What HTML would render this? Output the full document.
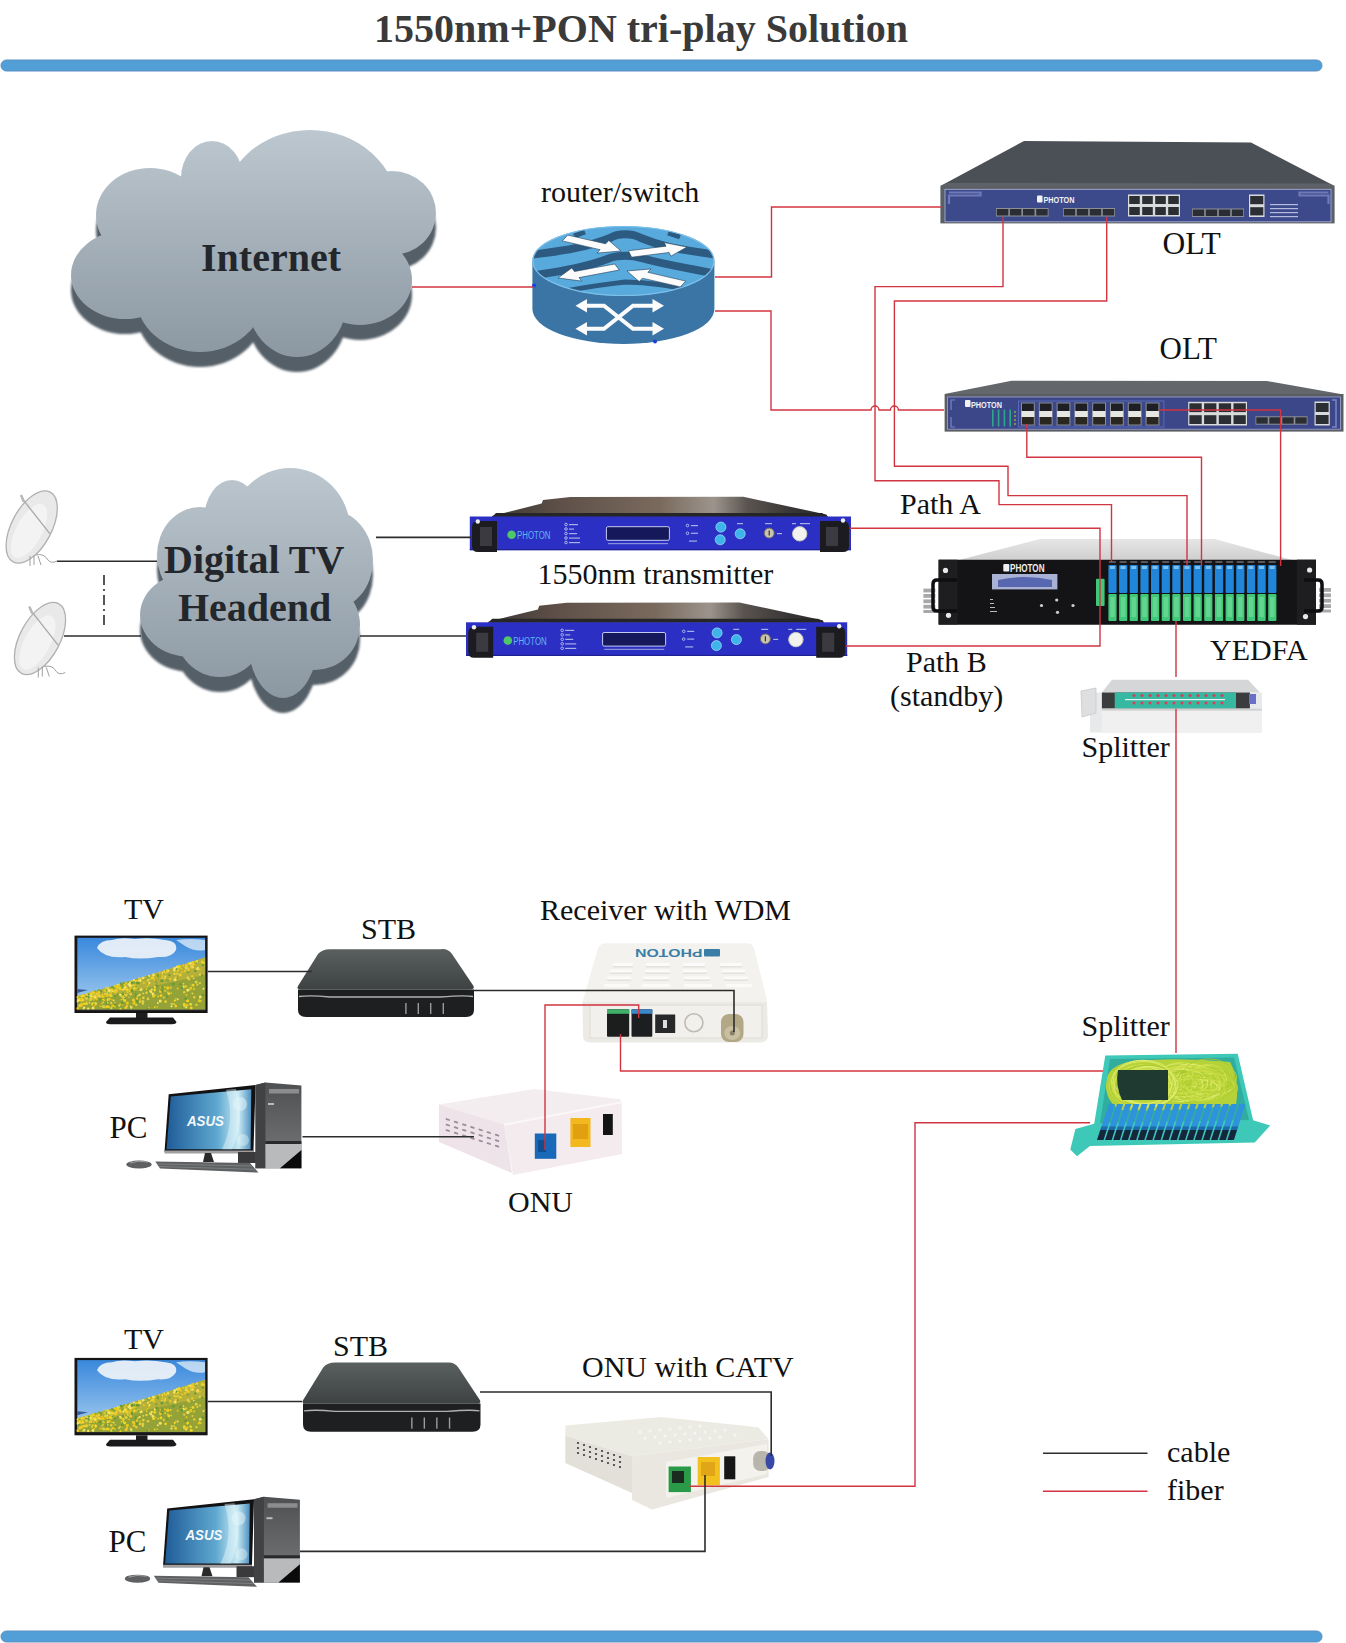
<!DOCTYPE html>
<html><head><meta charset="utf-8">
<style>
html,body{margin:0;padding:0;background:#fff;width:1346px;height:1643px;overflow:hidden}
svg{display:block;position:absolute;left:0;top:0}
text{font-family:"Liberation Serif",serif;fill:#111}
.lb{font-size:30px}
.bd{font-weight:bold;font-size:40px;fill:#23272c}
.r{stroke:#d23440;stroke-width:1.4;fill:none}
.k{stroke:#2c2c2c;stroke-width:1.6;fill:none}
</style></head>
<body>
<svg width="1346" height="1643" viewBox="0 0 1346 1643">
<defs>
<linearGradient id="cg1" gradientUnits="userSpaceOnUse" x1="0" y1="130" x2="0" y2="360"><stop offset="0" stop-color="#bcc7cf"/><stop offset="1" stop-color="#8b97a1"/></linearGradient>
<linearGradient id="cg2" gradientUnits="userSpaceOnUse" x1="0" y1="466" x2="0" y2="700"><stop offset="0" stop-color="#bcc7cf"/><stop offset="1" stop-color="#8b97a1"/></linearGradient>
<filter id="bl1" x="-10%" y="-10%" width="120%" height="120%"><feGaussianBlur stdDeviation="1.2"/></filter>
<g id="cloud1">
<ellipse cx="125" cy="275" rx="54" ry="44"/><ellipse cx="150" cy="215" rx="54" ry="47"/><ellipse cx="212" cy="178" rx="31" ry="37"/>
<ellipse cx="310" cy="210" rx="88" ry="80"/><ellipse cx="392" cy="213" rx="44" ry="42"/><ellipse cx="360" cy="280" rx="52" ry="45"/>
<ellipse cx="297" cy="300" rx="50" ry="57"/><ellipse cx="200" cy="296" rx="64" ry="56"/><rect x="130" y="200" width="250" height="110"/>
</g>
<g id="cloud2">
<ellipse cx="290" cy="530" rx="60" ry="62"/><ellipse cx="232" cy="520" rx="28" ry="40"/><ellipse cx="200" cy="555" rx="43" ry="48"/>
<ellipse cx="190" cy="615" rx="50" ry="42"/><ellipse cx="220" cy="630" rx="45" ry="47"/><ellipse cx="283" cy="640" rx="35" ry="58"/>
<ellipse cx="315" cy="625" rx="45" ry="45"/><ellipse cx="330" cy="560" rx="43" ry="50"/><rect x="180" y="540" width="150" height="100"/>
</g>
</defs>
<g id="clouds">
<use href="#cloud1" transform="translate(0,15)" fill="#545e68" filter="url(#bl1)"/>
<use href="#cloud1" fill="url(#cg1)"/>
<text class="bd" x="201" y="271">Internet</text>
<use href="#cloud2" transform="translate(0,15)" fill="#545e68" filter="url(#bl1)"/>
<use href="#cloud2" fill="url(#cg2)"/>
<text class="bd" x="164" y="573">Digital TV</text>
<text class="bd" x="178" y="620.5">Headend</text>
</g>
<!-- bars -->
<rect x="1" y="60" width="1321" height="11" rx="5.5" fill="#529fd8" stroke="#5a8fbf" stroke-width="1"/>
<rect x="1" y="1631" width="1321" height="11" rx="5.5" fill="#529fd8" stroke="#5a8fbf" stroke-width="1"/>
<text x="374" y="42" style="font-size:40px;font-weight:bold;fill:#3a3a3a">1550nm+PON tri-play Solution</text>

<g id="router">
<clipPath id="rtop"><ellipse cx="623.4" cy="261" rx="91" ry="35"/></clipPath>
<path d="M532.4 261V309A91 35 0 0 0 714.4 309V261Z" fill="#3b75a6"/>
<ellipse cx="623.4" cy="261" rx="91" ry="35" fill="#58aadd"/>
<g clip-path="url(#rtop)" fill="none" stroke="#2c5a80" stroke-linejoin="round">
<path d="M530 255C550 252 580 250 610 238C618 233 632 233 641 238C670 250 690 250 716 255" stroke-width="8"/>
<path d="M530 276C555 272 585 268 610 258C618 255 632 255 641 258C670 266 690 268 716 274" stroke-width="8"/>
<path d="M560 292C590 286 610 284 625 282C650 282 670 286 700 292" stroke-width="5"/>
<path d="M574 236L585 232M668 233L680 237" stroke-width="5"/>
</g>
<ellipse cx="623.4" cy="261" rx="90.5" ry="34.5" fill="none" stroke="#7cc0ea" stroke-width="1.2"/>
<g fill="#fbfbfb" stroke="#1e3c58" stroke-width=".6">
<path d="M562.3 240.9L600.1 249.7L597.0 253.1L621.0 251.0L608.8 240.4L605.6 243.8L567.7 235.1Z"/><path d="M631.6 257.2L669.1 252.5L670.9 256.2L687.0 247.0L664.2 242.6L666.0 246.2L628.4 250.8Z"/><path d="M614.7 264.0L574.5 271.5L571.8 267.9L558.0 278.0L581.6 281.1L579.0 277.6L619.3 270.0Z"/><path d="M685.7 281.1L647.9 272.3L651.0 268.9L627.0 271.0L639.2 281.6L642.4 278.2L680.3 286.9Z"/>
</g>
<g fill="none" stroke="#fbfbfb" stroke-width="4">
<path d="M584 305.7H604L633 328.7H655"/>
<path d="M584 328.7H604L633 305.7H655"/>
</g>
<g fill="#fbfbfb">
<path d="M575.5 305.7L587 299V312.4Z"/><path d="M575.5 328.7L587 322V335.4Z"/>
<path d="M664 305.7L652.5 299V312.4Z"/><path d="M664 328.7L652.5 322V335.4Z"/>
</g>
</g>
<g id="olt1">
<path d="M1024 141L1251 142.5L1334.6 186L940.4 186Z" fill="#4b5056"/>
<path d="M947 183L1329 183.5L1334.6 186L940.4 186Z" fill="#5d6268"/>
<rect x="940.4" y="186" width="394.2" height="37.4" fill="#5c6065"/>
<rect x="945" y="189.3" width="386" height="32.5" fill="#3c4a8c" stroke="#aeb5dc" stroke-width="0.8"/>
<path d="M949 204V195.5H980.5V192.5H949" fill="none" stroke="#6f7bb8" stroke-width="2.2"/>
<path d="M1328.5 204V195.5H1299.5V192.5H1328.5" fill="none" stroke="#6f7bb8" stroke-width="2.2"/>
<rect x="1037" y="195.5" width="5.5" height="7" rx="1" fill="#f2f2f5"/>
<text x="1043.5" y="202.8" style="font-family:'Liberation Sans',sans-serif;font-size:9px;fill:#f2f2f5;font-weight:bold" textLength="31" lengthAdjust="spacingAndGlyphs">PHOTON</text>
<rect x="996" y="208" width="52.5" height="8.5" fill="#8d8f96"/><rect x="996.8" y="209" width="11.5" height="6.5" fill="#2a2d33"/><rect x="1009.9" y="209" width="11.5" height="6.5" fill="#2a2d33"/><rect x="1023.0" y="209" width="11.5" height="6.5" fill="#2a2d33"/><rect x="1036.2" y="209" width="11.5" height="6.5" fill="#2a2d33"/>
<rect x="1063" y="208" width="52" height="8.5" fill="#8d8f96"/><rect x="1063.8" y="209" width="11.4" height="6.5" fill="#2a2d33"/><rect x="1076.8" y="209" width="11.4" height="6.5" fill="#2a2d33"/><rect x="1089.8" y="209" width="11.4" height="6.5" fill="#2a2d33"/><rect x="1102.8" y="209" width="11.4" height="6.5" fill="#2a2d33"/>
<rect x="1128" y="194.5" width="52" height="22" fill="#d9dadc"/><rect x="1129.2" y="196.0" width="10.6" height="8.0" fill="#2b2e33"/><rect x="1142.2" y="196.0" width="10.6" height="8.0" fill="#2b2e33"/><rect x="1155.2" y="196.0" width="10.6" height="8.0" fill="#2b2e33"/><rect x="1168.2" y="196.0" width="10.6" height="8.0" fill="#2b2e33"/><rect x="1129.2" y="207.0" width="10.6" height="8.0" fill="#2b2e33"/><rect x="1142.2" y="207.0" width="10.6" height="8.0" fill="#2b2e33"/><rect x="1155.2" y="207.0" width="10.6" height="8.0" fill="#2b2e33"/><rect x="1168.2" y="207.0" width="10.6" height="8.0" fill="#2b2e33"/>
<rect x="1192" y="208.5" width="52" height="8.5" fill="#8d8f96"/><rect x="1192.8" y="209.5" width="11.4" height="6.5" fill="#2a2d33"/><rect x="1205.8" y="209.5" width="11.4" height="6.5" fill="#2a2d33"/><rect x="1218.8" y="209.5" width="11.4" height="6.5" fill="#2a2d33"/><rect x="1231.8" y="209.5" width="11.4" height="6.5" fill="#2a2d33"/>
<rect x="1249" y="194.5" width="15.5" height="22.5" fill="#d9dadc"/><rect x="1250.2" y="196.0" width="13.1" height="8.2" fill="#2b2e33"/><rect x="1250.2" y="207.2" width="13.1" height="8.2" fill="#2b2e33"/>
<g fill="#b6bbdf"><rect x="1270" y="204" width="28" height="1.2"/><rect x="1270" y="208" width="28" height="1.2"/><rect x="1270" y="212" width="28" height="1.2"/><rect x="1270" y="216" width="28" height="1.2"/></g>
</g>
<g id="olt2">
<path d="M1011.6 380.8L1267 381L1343.5 394.4L944.6 394Z" fill="#63676b"/>
<rect x="944.6" y="394" width="398.9" height="37.6" fill="#5a5e63"/>
<rect x="947.6" y="397" width="392.9" height="32.2" fill="#3b4789" stroke="#9fa6d4" stroke-width="0.8"/>
<rect x="965" y="400" width="5.5" height="7" rx="1" fill="#f2f2f5"/>
<text x="971" y="407.5" style="font-family:'Liberation Sans',sans-serif;font-size:9px;fill:#f2f2f5;font-weight:bold" textLength="31" lengthAdjust="spacingAndGlyphs">PHOTON</text>
<g fill="#2da68e"><rect x="992" y="409.5" width="1.6" height="17"/><rect x="997.8" y="409.5" width="1.6" height="17"/><rect x="1003.6" y="409.5" width="1.6" height="17"/><rect x="1009.4" y="409.5" width="1.6" height="17"/></g>
<g fill="#9aa04a"><circle cx="1015" cy="412" r="1"/><circle cx="1015" cy="416" r="1"/><circle cx="1015" cy="420" r="1"/><circle cx="1015" cy="424" r="1"/></g>
<path d="M951 410V400H955M951 417V427H955" fill="none" stroke="#7c86c0" stroke-width="1.2"/>
<rect x="1018.5" y="401.0" width="145.4" height="26" fill="none" stroke="#5a6ab8" stroke-width="1"/><rect x="1021.0" y="402.5" width="13.8" height="23" fill="#8b8e95"/><rect x="1022.0" y="403.5" width="11.8" height="7.5" fill="#1d1f24"/><rect x="1021.5" y="411.0" width="12.8" height="6" fill="#e6e6e2"/><rect x="1022.0" y="417.0" width="11.8" height="7.5" fill="#2a2620"/><rect x="1038.8" y="402.5" width="13.8" height="23" fill="#8b8e95"/><rect x="1039.8" y="403.5" width="11.8" height="7.5" fill="#1d1f24"/><rect x="1039.3" y="411.0" width="12.8" height="6" fill="#e6e6e2"/><rect x="1039.8" y="417.0" width="11.8" height="7.5" fill="#2a2620"/><rect x="1056.6" y="402.5" width="13.8" height="23" fill="#8b8e95"/><rect x="1057.6" y="403.5" width="11.8" height="7.5" fill="#1d1f24"/><rect x="1057.1" y="411.0" width="12.8" height="6" fill="#e6e6e2"/><rect x="1057.6" y="417.0" width="11.8" height="7.5" fill="#2a2620"/><rect x="1074.4" y="402.5" width="13.8" height="23" fill="#8b8e95"/><rect x="1075.4" y="403.5" width="11.8" height="7.5" fill="#1d1f24"/><rect x="1074.9" y="411.0" width="12.8" height="6" fill="#e6e6e2"/><rect x="1075.4" y="417.0" width="11.8" height="7.5" fill="#2a2620"/><rect x="1092.2" y="402.5" width="13.8" height="23" fill="#8b8e95"/><rect x="1093.2" y="403.5" width="11.8" height="7.5" fill="#1d1f24"/><rect x="1092.7" y="411.0" width="12.8" height="6" fill="#e6e6e2"/><rect x="1093.2" y="417.0" width="11.8" height="7.5" fill="#2a2620"/><rect x="1110.0" y="402.5" width="13.8" height="23" fill="#8b8e95"/><rect x="1111.0" y="403.5" width="11.8" height="7.5" fill="#1d1f24"/><rect x="1110.5" y="411.0" width="12.8" height="6" fill="#e6e6e2"/><rect x="1111.0" y="417.0" width="11.8" height="7.5" fill="#2a2620"/><rect x="1127.8" y="402.5" width="13.8" height="23" fill="#8b8e95"/><rect x="1128.8" y="403.5" width="11.8" height="7.5" fill="#1d1f24"/><rect x="1128.3" y="411.0" width="12.8" height="6" fill="#e6e6e2"/><rect x="1128.8" y="417.0" width="11.8" height="7.5" fill="#2a2620"/><rect x="1145.6" y="402.5" width="13.8" height="23" fill="#8b8e95"/><rect x="1146.6" y="403.5" width="11.8" height="7.5" fill="#1d1f24"/><rect x="1146.1" y="411.0" width="12.8" height="6" fill="#e6e6e2"/><rect x="1146.6" y="417.0" width="11.8" height="7.5" fill="#2a2620"/>
<rect x="1188.2" y="401.8" width="58.8" height="23.7" fill="#d9dadc"/><rect x="1189.4" y="403.3" width="12.3" height="8.8" fill="#2b2e33"/><rect x="1204.1" y="403.3" width="12.3" height="8.8" fill="#2b2e33"/><rect x="1218.8" y="403.3" width="12.3" height="8.8" fill="#2b2e33"/><rect x="1233.5" y="403.3" width="12.3" height="8.8" fill="#2b2e33"/><rect x="1189.4" y="415.2" width="12.3" height="8.8" fill="#2b2e33"/><rect x="1204.1" y="415.2" width="12.3" height="8.8" fill="#2b2e33"/><rect x="1218.8" y="415.2" width="12.3" height="8.8" fill="#2b2e33"/><rect x="1233.5" y="415.2" width="12.3" height="8.8" fill="#2b2e33"/>
<rect x="1255.5" y="416.3" width="52" height="8.4" fill="#8d8f96"/><rect x="1256.3" y="417.3" width="11.4" height="6.4" fill="#2a2d33"/><rect x="1269.3" y="417.3" width="11.4" height="6.4" fill="#2a2d33"/><rect x="1282.3" y="417.3" width="11.4" height="6.4" fill="#2a2d33"/><rect x="1295.3" y="417.3" width="11.4" height="6.4" fill="#2a2d33"/>
<rect x="1314.5" y="401.5" width="15.3" height="24" fill="#d9dadc"/><rect x="1315.7" y="403.0" width="12.9" height="9.0" fill="#2b2e33"/><rect x="1315.7" y="415.0" width="12.9" height="9.0" fill="#2b2e33"/>
<path d="M1332 400H1336V427H1332" fill="none" stroke="#7c86c0" stroke-width="1.5"/>
</g>
<linearGradient id="txtop" x1="0" y1="0" x2="1" y2="0"><stop offset="0" stop-color="#3a3634"/><stop offset=".2" stop-color="#5e5048"/><stop offset=".5" stop-color="#7a6a5e"/><stop offset=".66" stop-color="#9c948c"/><stop offset=".76" stop-color="#5a5450"/><stop offset=".9" stop-color="#363434"/><stop offset="1" stop-color="#2c2c2e"/></linearGradient>
<g id="tx">
<path d="M492 516L541.7 503.6L543 500L570.4 497L743.2 496.7L826.4 514.5L828 517H492Z" fill="url(#txtop)"/>
<path d="M496 513H822L828 517H492Z" fill="#262626"/>
<rect x="469.8" y="516.5" width="381.2" height="33.7" fill="#2b2fc4"/>
<rect x="469.8" y="549" width="381.2" height="1.2" fill="#1e2290"/>
<path d="M474 521H497V552H478Q472 552 472 546V527Q472 521 478 521Z" fill="#1c1c20"/>
<rect x="480" y="527" width="12" height="19" fill="#3a3a40"/>
<path d="M820 521H843Q849 521 849 527V546Q849 552 843 552H820Z" fill="#1c1c20"/>
<rect x="826" y="527" width="12" height="19" fill="#3a3a40"/>
<circle cx="477.8" cy="521.5" r="2.2" fill="#eee"/><circle cx="843" cy="520.5" r="2.2" fill="#eee"/>
<circle cx="511.6" cy="534.7" r="4.3" fill="#4fc868"/>
<text x="517" y="539" style="font-family:'Liberation Sans',sans-serif;font-size:10px;fill:#5fb8f0" textLength="33.5" lengthAdjust="spacingAndGlyphs">PHOTON</text>
<g fill="none" stroke="#c8d0f0" stroke-width=".8"><circle cx="566" cy="524.5" r="1.3"/><circle cx="566" cy="529" r="1.3"/><circle cx="566" cy="533.5" r="1.3"/><circle cx="566" cy="538" r="1.3"/><circle cx="566" cy="542.5" r="1.3"/></g>
<g fill="#a8b0e8"><rect x="569" y="524" width="9" height="1.2"/><rect x="569" y="528.5" width="5" height="1.2"/><rect x="569" y="533" width="8" height="1.2"/><rect x="569" y="537.5" width="11" height="1.2"/><rect x="569" y="542" width="11" height="1.2"/></g>
<rect x="606.4" y="526.7" width="63" height="13.6" rx="1.5" fill="#15185a" stroke="#c4caf2" stroke-width="1"/>
<rect x="608" y="543" width="60" height="1.2" fill="#8890d8"/>
<g fill="none" stroke="#c8d0f0" stroke-width=".8"><circle cx="687.5" cy="525.5" r="1.3"/><circle cx="687.5" cy="533.3" r="1.3"/></g>
<g fill="#a8b0e8"><rect x="691" y="525" width="7" height="1.2"/><rect x="691" y="532.7" width="7" height="1.2"/><rect x="689" y="540.5" width="8" height="1.2"/></g>
<g fill="#3fb4ea" stroke="#9ad8f6" stroke-width=".8"><circle cx="720.9" cy="527.1" r="5"/><circle cx="720.2" cy="539.8" r="5"/><circle cx="740.2" cy="533.8" r="5"/></g>
<rect x="737" y="523" width="6" height="1.2" fill="#a8b0e8"/>
<circle cx="769.2" cy="533.1" r="5" fill="#c8c4b0" stroke="#6a6a60" stroke-width="1"/><rect x="768.6" y="530.5" width="1.2" height="5" fill="#333"/>
<rect x="765" y="523" width="7" height="1.2" fill="#a8b0e8"/><rect x="777" y="533" width="5" height="1.2" fill="#a8b0e8"/>
<circle cx="799.7" cy="533.8" r="7.2" fill="#f2f2ee" stroke="#c8c8c0" stroke-width="1"/>
<rect x="792" y="523" width="4" height="1.2" fill="#a8b0e8"/><rect x="800" y="523" width="10" height="1.2" fill="#a8b0e8"/>
</g>
<use href="#tx" transform="translate(-3.8,105.8)"/>
<linearGradient id="ytop" x1="0" y1="0" x2="0" y2="1"><stop offset="0" stop-color="#e6e6e6"/><stop offset="1" stop-color="#cfcfcf"/></linearGradient>
<g id="yedfa">
<path d="M959 560L1039.9 539L1214.8 539L1291.6 560Z" fill="url(#ytop)"/>
<path d="M938.6 559.7H1316L1316 624.8H938.6Z" fill="#141416"/>
<rect x="938.6" y="559.7" width="19" height="64.7" fill="#1e1e20"/>
<rect x="1297" y="559.7" width="19" height="65" fill="#1e1e20"/>
<circle cx="945.5" cy="570.4" r="2.6" fill="#e8e8e8"/><circle cx="948.5" cy="615.3" r="2.6" fill="#e8e8e8"/>
<circle cx="1309.6" cy="570" r="2.6" fill="#e8e8e8"/><circle cx="1305.5" cy="616.6" r="2.6" fill="#e8e8e8"/>
<g fill="#a8a8aa"><rect x="923.4" y="588.6" width="12" height="3.8"/><rect x="923.4" y="594" width="12" height="3.8"/><rect x="923.4" y="599.4" width="12" height="3.8"/><rect x="923.4" y="604.8" width="12" height="3.8"/><rect x="923.4" y="610" width="12" height="3"/></g>
<path d="M957 580H937Q933 580 933 584V607Q933 611 937 611H957" fill="none" stroke="#0e0e10" stroke-width="3.5"/>
<g fill="#a8a8aa"><rect x="1319" y="588" width="12" height="3.8"/><rect x="1319" y="593.4" width="12" height="3.8"/><rect x="1319" y="598.8" width="12" height="3.8"/><rect x="1319" y="604.2" width="12" height="3.8"/><rect x="1319" y="609.5" width="12" height="3"/></g>
<path d="M1304 580H1318Q1322 580 1322 584V607Q1322 611 1318 611H1304" fill="none" stroke="#0e0e10" stroke-width="3.5"/>
<rect x="992" y="574" width="65.4" height="15.4" fill="#a9b2d4"/>
<path d="M998 580Q1024 574 1052 580V587H998Z" fill="#5868b0"/>
<rect x="1003.3" y="564" width="6" height="7.5" rx="1" fill="#f0f0f0"/>
<text x="1010" y="572" style="font-family:'Liberation Sans',sans-serif;font-size:10px;fill:#f0f0f0;font-weight:bold" textLength="34.5" lengthAdjust="spacingAndGlyphs">PHOTON</text>
<g fill="#bbb"><rect x="990" y="599" width="3" height="1"/><rect x="990" y="603" width="4" height="1"/><rect x="990" y="607" width="5" height="1"/><rect x="990" y="611" width="7" height="1"/></g>
<g fill="#cfcfcf"><circle cx="1041.5" cy="605.5" r="1.6"/><circle cx="1056.7" cy="600" r="1.6"/><circle cx="1057.5" cy="612.3" r="1.6"/><circle cx="1073" cy="605.5" r="1.6"/></g>
<rect x="1096" y="578.7" width="8.6" height="27.3" rx="1" fill="#3fc878"/>
<rect x="1108.4" y="565" width="8.2" height="28" rx="1" fill="#1f86dc"/><rect x="1109.9" y="566" width="5" height="3" fill="#7cc0f0"/><rect x="1108.4" y="594" width="8.2" height="27" rx="1" fill="#3fc878"/><rect x="1110.2" y="597" width="4.6" height="20" fill="#7fe0a0" opacity=".55"/><rect x="1108.9" y="561.5" width="7" height="1" fill="#9a9aa0"/><rect x="1119.1" y="565" width="8.2" height="28" rx="1" fill="#1f86dc"/><rect x="1120.6" y="566" width="5" height="3" fill="#7cc0f0"/><rect x="1119.1" y="594" width="8.2" height="27" rx="1" fill="#3fc878"/><rect x="1120.9" y="597" width="4.6" height="20" fill="#7fe0a0" opacity=".55"/><rect x="1119.6" y="561.5" width="7" height="1" fill="#9a9aa0"/><rect x="1129.7" y="565" width="8.2" height="28" rx="1" fill="#1f86dc"/><rect x="1131.2" y="566" width="5" height="3" fill="#7cc0f0"/><rect x="1129.7" y="594" width="8.2" height="27" rx="1" fill="#3fc878"/><rect x="1131.5" y="597" width="4.6" height="20" fill="#7fe0a0" opacity=".55"/><rect x="1130.2" y="561.5" width="7" height="1" fill="#9a9aa0"/><rect x="1140.4" y="565" width="8.2" height="28" rx="1" fill="#1f86dc"/><rect x="1141.9" y="566" width="5" height="3" fill="#7cc0f0"/><rect x="1140.4" y="594" width="8.2" height="27" rx="1" fill="#3fc878"/><rect x="1142.2" y="597" width="4.6" height="20" fill="#7fe0a0" opacity=".55"/><rect x="1140.9" y="561.5" width="7" height="1" fill="#9a9aa0"/><rect x="1151.0" y="565" width="8.2" height="28" rx="1" fill="#1f86dc"/><rect x="1152.5" y="566" width="5" height="3" fill="#7cc0f0"/><rect x="1151.0" y="594" width="8.2" height="27" rx="1" fill="#3fc878"/><rect x="1152.8" y="597" width="4.6" height="20" fill="#7fe0a0" opacity=".55"/><rect x="1151.5" y="561.5" width="7" height="1" fill="#9a9aa0"/><rect x="1161.7" y="565" width="8.2" height="28" rx="1" fill="#1f86dc"/><rect x="1163.2" y="566" width="5" height="3" fill="#7cc0f0"/><rect x="1161.7" y="594" width="8.2" height="27" rx="1" fill="#3fc878"/><rect x="1163.5" y="597" width="4.6" height="20" fill="#7fe0a0" opacity=".55"/><rect x="1162.2" y="561.5" width="7" height="1" fill="#9a9aa0"/><rect x="1172.3" y="565" width="8.2" height="28" rx="1" fill="#1f86dc"/><rect x="1173.8" y="566" width="5" height="3" fill="#7cc0f0"/><rect x="1172.3" y="594" width="8.2" height="27" rx="1" fill="#3fc878"/><rect x="1174.1" y="597" width="4.6" height="20" fill="#7fe0a0" opacity=".55"/><rect x="1172.8" y="561.5" width="7" height="1" fill="#9a9aa0"/><rect x="1183.0" y="565" width="8.2" height="28" rx="1" fill="#1f86dc"/><rect x="1184.5" y="566" width="5" height="3" fill="#7cc0f0"/><rect x="1183.0" y="594" width="8.2" height="27" rx="1" fill="#3fc878"/><rect x="1184.8" y="597" width="4.6" height="20" fill="#7fe0a0" opacity=".55"/><rect x="1183.5" y="561.5" width="7" height="1" fill="#9a9aa0"/><rect x="1193.6" y="565" width="8.2" height="28" rx="1" fill="#1f86dc"/><rect x="1195.1" y="566" width="5" height="3" fill="#7cc0f0"/><rect x="1193.6" y="594" width="8.2" height="27" rx="1" fill="#3fc878"/><rect x="1195.4" y="597" width="4.6" height="20" fill="#7fe0a0" opacity=".55"/><rect x="1194.1" y="561.5" width="7" height="1" fill="#9a9aa0"/><rect x="1204.2" y="565" width="8.2" height="28" rx="1" fill="#1f86dc"/><rect x="1205.8" y="566" width="5" height="3" fill="#7cc0f0"/><rect x="1204.2" y="594" width="8.2" height="27" rx="1" fill="#3fc878"/><rect x="1206.0" y="597" width="4.6" height="20" fill="#7fe0a0" opacity=".55"/><rect x="1204.8" y="561.5" width="7" height="1" fill="#9a9aa0"/><rect x="1214.9" y="565" width="8.2" height="28" rx="1" fill="#1f86dc"/><rect x="1216.4" y="566" width="5" height="3" fill="#7cc0f0"/><rect x="1214.9" y="594" width="8.2" height="27" rx="1" fill="#3fc878"/><rect x="1216.7" y="597" width="4.6" height="20" fill="#7fe0a0" opacity=".55"/><rect x="1215.4" y="561.5" width="7" height="1" fill="#9a9aa0"/><rect x="1225.6" y="565" width="8.2" height="28" rx="1" fill="#1f86dc"/><rect x="1227.1" y="566" width="5" height="3" fill="#7cc0f0"/><rect x="1225.6" y="594" width="8.2" height="27" rx="1" fill="#3fc878"/><rect x="1227.4" y="597" width="4.6" height="20" fill="#7fe0a0" opacity=".55"/><rect x="1226.1" y="561.5" width="7" height="1" fill="#9a9aa0"/><rect x="1236.2" y="565" width="8.2" height="28" rx="1" fill="#1f86dc"/><rect x="1237.7" y="566" width="5" height="3" fill="#7cc0f0"/><rect x="1236.2" y="594" width="8.2" height="27" rx="1" fill="#3fc878"/><rect x="1238.0" y="597" width="4.6" height="20" fill="#7fe0a0" opacity=".55"/><rect x="1236.7" y="561.5" width="7" height="1" fill="#9a9aa0"/><rect x="1246.9" y="565" width="8.2" height="28" rx="1" fill="#1f86dc"/><rect x="1248.4" y="566" width="5" height="3" fill="#7cc0f0"/><rect x="1246.9" y="594" width="8.2" height="27" rx="1" fill="#3fc878"/><rect x="1248.7" y="597" width="4.6" height="20" fill="#7fe0a0" opacity=".55"/><rect x="1247.4" y="561.5" width="7" height="1" fill="#9a9aa0"/><rect x="1257.5" y="565" width="8.2" height="28" rx="1" fill="#1f86dc"/><rect x="1259.0" y="566" width="5" height="3" fill="#7cc0f0"/><rect x="1257.5" y="594" width="8.2" height="27" rx="1" fill="#3fc878"/><rect x="1259.3" y="597" width="4.6" height="20" fill="#7fe0a0" opacity=".55"/><rect x="1258.0" y="561.5" width="7" height="1" fill="#9a9aa0"/><rect x="1268.2" y="565" width="8.2" height="28" rx="1" fill="#1f86dc"/><rect x="1269.7" y="566" width="5" height="3" fill="#7cc0f0"/><rect x="1268.2" y="594" width="8.2" height="27" rx="1" fill="#3fc878"/><rect x="1270.0" y="597" width="4.6" height="20" fill="#7fe0a0" opacity=".55"/><rect x="1268.7" y="561.5" width="7" height="1" fill="#9a9aa0"/>
</g>
<g id="rack1">
<path d="M1101.9 692.5L1112 679.7H1248L1260 692.5Z" fill="#d4d6d8"/>
<rect x="1090" y="692.5" width="172" height="40" fill="#e8e9ea"/>
<rect x="1101.9" y="692.5" width="148" height="16.2" fill="#3a3c3e"/>
<rect x="1114.7" y="692.5" width="121.3" height="16.2" fill="#37b8a0"/>
<g fill="#d8405a">
<circle cx="1134" cy="695.5" r="1.6"/><circle cx="1142" cy="695.5" r="1.6"/><circle cx="1150" cy="695.5" r="1.6"/><circle cx="1158" cy="695.5" r="1.6"/><circle cx="1166" cy="695.5" r="1.6"/><circle cx="1174" cy="695.5" r="1.6"/><circle cx="1182" cy="695.5" r="1.6"/><circle cx="1190" cy="695.5" r="1.6"/><circle cx="1198" cy="695.5" r="1.6"/><circle cx="1206" cy="695.5" r="1.6"/><circle cx="1214" cy="695.5" r="1.6"/><circle cx="1222" cy="695.5" r="1.6"/>
<circle cx="1134" cy="703" r="1.6"/><circle cx="1142" cy="703" r="1.6"/><circle cx="1150" cy="703" r="1.6"/><circle cx="1158" cy="703" r="1.6"/><circle cx="1166" cy="703" r="1.6"/><circle cx="1174" cy="703" r="1.6"/><circle cx="1182" cy="703" r="1.6"/><circle cx="1190" cy="703" r="1.6"/><circle cx="1198" cy="703" r="1.6"/><circle cx="1206" cy="703" r="1.6"/><circle cx="1214" cy="703" r="1.6"/><circle cx="1222" cy="703" r="1.6"/>
</g>
<rect x="1125" y="699" width="100" height="1.2" fill="#e8f4f0"/>
<rect x="1249" y="694" width="7" height="10" fill="#6a70c8"/>
<path d="M1081 691L1096 688V713L1082 717Z" fill="#dedfe0" stroke="#c8c8c8" stroke-width=".8"/>
<rect x="1102" y="708.7" width="160" height="24" fill="#f0f0f0"/>
<rect x="1102" y="708.7" width="160" height="2" fill="#d0d0d0"/>
</g>
<linearGradient id="sky" x1="0" y1="0" x2="0" y2="1"><stop offset="0" stop-color="#3a88dc"/><stop offset="1" stop-color="#a8d0f0"/></linearGradient>
<linearGradient id="field" x1="0" y1="0" x2="1" y2="1"><stop offset="0" stop-color="#c8c040"/><stop offset=".5" stop-color="#d8c028"/><stop offset="1" stop-color="#7a9a38"/></linearGradient>
<g id="tv">
<rect x="74.5" y="935.6" width="133.1" height="77.4" fill="#151517"/>
<rect x="77.3" y="937.8" width="127.9" height="71.9" fill="url(#sky)"/>
<path d="M97 948Q100 940 112 940Q120 937 135 939Q150 937 165 940Q178 941 176 950Q172 958 158 957Q140 960 125 957Q105 959 97 948Z" fill="#eef3f8" opacity=".92"/>
<path d="M176 940Q190 938 205 940V950Q195 952 185 946Z" fill="#d8e8f6" opacity=".8"/>
<path d="M77.3 996L120 984Q160 972 205.2 957.3V1009.7H77.3Z" fill="#b4b03a"/>
<path d="M77.3 1003L130 992Q170 982 205.2 975V1009.7H77.3Z" fill="#6e9236" opacity=".45"/>
<circle cx="156.9" cy="995.3" r="1.4" fill="#88aa3c"/><circle cx="171.8" cy="1004.1" r="0.7" fill="#f6e468"/><circle cx="176.4" cy="971.5" r="0.7" fill="#e8c818"/><circle cx="91.9" cy="997.5" r="0.9" fill="#f0c830"/><circle cx="90.5" cy="994.7" r="1.4" fill="#f6e468"/><circle cx="113.1" cy="1006.0" r="1.4" fill="#e8c818"/><circle cx="174.6" cy="968.2" r="1.3" fill="#f6e468"/><circle cx="93.7" cy="992.1" r="1.5" fill="#e8c818"/><circle cx="176.1" cy="1006.4" r="0.8" fill="#e8c818"/><circle cx="114.4" cy="1007.6" r="1.2" fill="#6a9a34"/><circle cx="157.3" cy="975.2" r="1.6" fill="#e8c818"/><circle cx="200.7" cy="1000.9" r="1.0" fill="#e0d040"/><circle cx="130.4" cy="1006.2" r="0.9" fill="#e0d040"/><circle cx="115.9" cy="995.9" r="0.7" fill="#6a9a34"/><circle cx="167.7" cy="970.1" r="1.0" fill="#e0d040"/><circle cx="138.8" cy="983.2" r="1.1" fill="#6a9a34"/><circle cx="100.0" cy="992.3" r="1.5" fill="#6a9a34"/><circle cx="123.1" cy="989.2" r="1.2" fill="#f6e468"/><circle cx="124.2" cy="993.7" r="0.7" fill="#f2d420"/><circle cx="167.7" cy="988.1" r="1.6" fill="#f2d420"/><circle cx="173.9" cy="1004.5" r="1.5" fill="#e0d040"/><circle cx="142.8" cy="1003.7" r="0.9" fill="#f6e468"/><circle cx="91.3" cy="1003.0" r="1.4" fill="#88aa3c"/><circle cx="115.2" cy="991.7" r="1.6" fill="#e8c818"/><circle cx="120.9" cy="995.2" r="1.5" fill="#e0d040"/><circle cx="112.6" cy="999.2" r="0.8" fill="#6a9a34"/><circle cx="117.9" cy="986.2" r="0.8" fill="#e8c818"/><circle cx="169.4" cy="975.2" r="1.1" fill="#6a9a34"/><circle cx="83.7" cy="1008.7" r="1.2" fill="#f6e468"/><circle cx="81.6" cy="1003.9" r="1.0" fill="#e0d040"/><circle cx="135.6" cy="986.8" r="0.8" fill="#6a9a34"/><circle cx="81.7" cy="1000.0" r="1.5" fill="#e8c818"/><circle cx="202.6" cy="979.1" r="0.8" fill="#88aa3c"/><circle cx="130.3" cy="982.6" r="1.0" fill="#f2d420"/><circle cx="185.2" cy="970.7" r="1.1" fill="#f0c830"/><circle cx="186.2" cy="1007.3" r="1.1" fill="#f6e468"/><circle cx="165.3" cy="976.5" r="0.9" fill="#f6e468"/><circle cx="129.0" cy="982.6" r="1.0" fill="#f0c830"/><circle cx="199.9" cy="983.2" r="1.1" fill="#e0d040"/><circle cx="100.5" cy="996.1" r="1.2" fill="#f0c830"/><circle cx="188.1" cy="972.4" r="1.4" fill="#88aa3c"/><circle cx="122.9" cy="994.2" r="0.7" fill="#e0d040"/><circle cx="123.8" cy="997.8" r="1.0" fill="#f6e468"/><circle cx="111.3" cy="1008.3" r="1.3" fill="#e0d040"/><circle cx="160.3" cy="987.4" r="0.7" fill="#f0c830"/><circle cx="176.1" cy="974.1" r="0.9" fill="#e0d040"/><circle cx="181.6" cy="987.2" r="1.4" fill="#e0d040"/><circle cx="112.4" cy="990.5" r="1.5" fill="#f6e468"/><circle cx="122.1" cy="1002.9" r="1.5" fill="#6a9a34"/><circle cx="134.8" cy="985.4" r="1.0" fill="#e8c818"/><circle cx="145.0" cy="978.4" r="1.5" fill="#88aa3c"/><circle cx="138.3" cy="995.4" r="1.3" fill="#6a9a34"/><circle cx="130.6" cy="993.9" r="1.5" fill="#f0c830"/><circle cx="162.4" cy="980.7" r="1.3" fill="#88aa3c"/><circle cx="188.1" cy="969.1" r="1.6" fill="#e8c818"/><circle cx="97.9" cy="995.7" r="1.3" fill="#e8c818"/><circle cx="174.3" cy="970.3" r="1.3" fill="#f6e468"/><circle cx="202.4" cy="962.0" r="1.5" fill="#f2d420"/><circle cx="118.0" cy="986.3" r="0.9" fill="#f2d420"/><circle cx="130.5" cy="986.2" r="1.3" fill="#f2d420"/><circle cx="152.7" cy="977.7" r="1.5" fill="#f2d420"/><circle cx="122.2" cy="1007.1" r="1.5" fill="#88aa3c"/><circle cx="92.2" cy="1004.8" r="1.0" fill="#f2d420"/><circle cx="147.6" cy="980.6" r="1.0" fill="#f0c830"/><circle cx="120.8" cy="994.4" r="1.6" fill="#88aa3c"/><circle cx="94.0" cy="996.0" r="1.2" fill="#f0c830"/><circle cx="124.6" cy="983.8" r="1.2" fill="#f0c830"/><circle cx="138.3" cy="980.8" r="0.8" fill="#f2d420"/><circle cx="122.3" cy="1004.8" r="0.7" fill="#f2d420"/><circle cx="119.1" cy="1005.8" r="1.2" fill="#e0d040"/><circle cx="157.8" cy="1002.9" r="1.0" fill="#f6e468"/><circle cx="202.0" cy="975.3" r="1.1" fill="#6a9a34"/><circle cx="125.9" cy="1007.4" r="1.5" fill="#f0c830"/><circle cx="153.2" cy="995.7" r="1.0" fill="#e0d040"/><circle cx="130.5" cy="985.4" r="1.6" fill="#f6e468"/><circle cx="196.0" cy="963.2" r="0.7" fill="#6a9a34"/><circle cx="156.8" cy="982.8" r="1.0" fill="#88aa3c"/><circle cx="94.9" cy="995.6" r="1.1" fill="#f0c830"/><circle cx="112.4" cy="1006.7" r="1.4" fill="#e8c818"/><circle cx="140.0" cy="1001.6" r="1.3" fill="#e0d040"/><circle cx="114.9" cy="996.2" r="1.1" fill="#6a9a34"/><circle cx="187.6" cy="1000.7" r="1.5" fill="#f2d420"/><circle cx="174.5" cy="973.7" r="1.2" fill="#e0d040"/><circle cx="155.7" cy="994.9" r="0.7" fill="#e0d040"/><circle cx="123.5" cy="999.2" r="1.2" fill="#f2d420"/><circle cx="77.9" cy="1001.5" r="1.3" fill="#f2d420"/><circle cx="190.7" cy="980.3" r="0.7" fill="#88aa3c"/><circle cx="180.5" cy="984.6" r="1.3" fill="#6a9a34"/><circle cx="160.2" cy="1001.0" r="1.5" fill="#f6e468"/><circle cx="127.5" cy="1002.9" r="0.9" fill="#e0d040"/><circle cx="136.8" cy="998.3" r="1.0" fill="#f2d420"/><circle cx="166.1" cy="980.3" r="1.0" fill="#88aa3c"/><circle cx="137.7" cy="983.4" r="0.8" fill="#6a9a34"/><circle cx="147.5" cy="986.6" r="1.0" fill="#e8c818"/><circle cx="131.8" cy="991.2" r="0.7" fill="#6a9a34"/><circle cx="106.8" cy="1003.3" r="1.4" fill="#6a9a34"/><circle cx="197.6" cy="968.9" r="1.1" fill="#f2d420"/><circle cx="204.8" cy="987.1" r="0.7" fill="#88aa3c"/><circle cx="93.1" cy="999.9" r="1.4" fill="#f2d420"/><circle cx="168.3" cy="971.1" r="1.0" fill="#f6e468"/><circle cx="96.6" cy="999.3" r="1.1" fill="#e8c818"/><circle cx="86.1" cy="995.6" r="1.2" fill="#6a9a34"/><circle cx="125.8" cy="982.7" r="0.8" fill="#f0c830"/><circle cx="92.6" cy="996.2" r="1.3" fill="#f2d420"/><circle cx="132.5" cy="984.8" r="1.2" fill="#f6e468"/><circle cx="122.6" cy="996.4" r="1.5" fill="#e8c818"/><circle cx="166.4" cy="971.9" r="1.3" fill="#f0c830"/><circle cx="114.5" cy="1006.9" r="1.2" fill="#e8c818"/><circle cx="111.1" cy="995.4" r="0.9" fill="#88aa3c"/><circle cx="113.6" cy="1008.1" r="1.4" fill="#88aa3c"/><circle cx="124.8" cy="998.8" r="0.9" fill="#6a9a34"/><circle cx="79.9" cy="998.5" r="1.2" fill="#f2d420"/><circle cx="89.1" cy="994.0" r="1.2" fill="#e8c818"/><circle cx="127.2" cy="989.8" r="1.6" fill="#f2d420"/><circle cx="179.0" cy="966.4" r="1.4" fill="#f2d420"/><circle cx="185.7" cy="1005.1" r="1.1" fill="#88aa3c"/><circle cx="105.9" cy="989.0" r="1.6" fill="#6a9a34"/><circle cx="140.2" cy="980.6" r="1.3" fill="#f6e468"/><circle cx="122.7" cy="985.8" r="1.0" fill="#f0c830"/><circle cx="167.4" cy="997.0" r="1.0" fill="#6a9a34"/><circle cx="183.5" cy="986.9" r="1.4" fill="#f6e468"/><circle cx="200.1" cy="969.5" r="0.7" fill="#f0c830"/><circle cx="104.9" cy="990.0" r="0.8" fill="#f2d420"/><circle cx="81.7" cy="996.7" r="0.7" fill="#f6e468"/><circle cx="161.8" cy="978.4" r="1.1" fill="#e0d040"/><circle cx="190.9" cy="984.2" r="1.1" fill="#f6e468"/><circle cx="136.4" cy="981.2" r="1.3" fill="#f2d420"/><circle cx="125.3" cy="988.3" r="1.5" fill="#e8c818"/><circle cx="147.9" cy="976.6" r="1.4" fill="#88aa3c"/><circle cx="114.1" cy="988.1" r="1.1" fill="#f2d420"/><circle cx="121.4" cy="999.7" r="1.0" fill="#f2d420"/><circle cx="165.2" cy="990.9" r="1.1" fill="#e8c818"/><circle cx="92.5" cy="1001.1" r="1.0" fill="#6a9a34"/><circle cx="108.1" cy="1008.8" r="0.7" fill="#6a9a34"/><circle cx="80.7" cy="997.2" r="0.8" fill="#f6e468"/><circle cx="193.7" cy="988.9" r="1.3" fill="#e8c818"/><circle cx="137.2" cy="982.9" r="1.4" fill="#6a9a34"/><circle cx="137.2" cy="998.9" r="0.9" fill="#e8c818"/><circle cx="197.4" cy="984.7" r="1.1" fill="#e0d040"/><circle cx="78.3" cy="996.8" r="1.4" fill="#f6e468"/><circle cx="99.1" cy="990.5" r="1.5" fill="#88aa3c"/><circle cx="143.7" cy="982.9" r="0.8" fill="#f2d420"/><circle cx="107.7" cy="1002.7" r="0.8" fill="#f6e468"/><circle cx="84.4" cy="996.3" r="0.7" fill="#f6e468"/><circle cx="177.1" cy="967.1" r="1.5" fill="#f6e468"/><circle cx="116.5" cy="985.3" r="0.7" fill="#e8c818"/><circle cx="100.4" cy="996.5" r="1.1" fill="#f0c830"/><circle cx="107.3" cy="1006.6" r="1.4" fill="#f2d420"/><circle cx="146.6" cy="1004.9" r="1.2" fill="#88aa3c"/><circle cx="170.6" cy="987.7" r="1.1" fill="#e0d040"/><circle cx="139.5" cy="990.8" r="1.0" fill="#6a9a34"/><circle cx="94.4" cy="991.8" r="1.4" fill="#6a9a34"/><circle cx="134.8" cy="1001.3" r="0.9" fill="#f2d420"/><circle cx="95.2" cy="997.0" r="1.4" fill="#e0d040"/><circle cx="182.0" cy="972.1" r="0.8" fill="#f2d420"/><circle cx="137.6" cy="995.7" r="1.4" fill="#f0c830"/><circle cx="162.5" cy="976.0" r="1.1" fill="#e8c818"/><circle cx="83.6" cy="996.1" r="1.0" fill="#e0d040"/><circle cx="190.4" cy="963.5" r="1.4" fill="#f6e468"/><circle cx="173.4" cy="984.0" r="1.5" fill="#6a9a34"/><circle cx="197.4" cy="962.5" r="0.7" fill="#e8c818"/><circle cx="181.6" cy="987.6" r="1.6" fill="#6a9a34"/><circle cx="83.5" cy="998.7" r="0.8" fill="#88aa3c"/><circle cx="126.3" cy="983.2" r="0.8" fill="#e8c818"/><circle cx="95.0" cy="997.3" r="1.0" fill="#f2d420"/><circle cx="85.6" cy="1003.9" r="1.2" fill="#f2d420"/><circle cx="93.0" cy="1008.2" r="1.4" fill="#f6e468"/><circle cx="187.1" cy="1005.4" r="1.3" fill="#e8c818"/><circle cx="144.7" cy="977.8" r="0.9" fill="#e0d040"/><circle cx="79.1" cy="1001.8" r="1.4" fill="#6a9a34"/><circle cx="202.8" cy="965.1" r="1.2" fill="#6a9a34"/><circle cx="168.0" cy="980.4" r="1.5" fill="#88aa3c"/><circle cx="132.3" cy="985.3" r="1.1" fill="#e8c818"/><circle cx="136.3" cy="987.0" r="1.1" fill="#88aa3c"/><circle cx="162.7" cy="973.2" r="1.1" fill="#f6e468"/><circle cx="153.5" cy="974.9" r="1.4" fill="#f6e468"/><circle cx="164.9" cy="973.6" r="0.7" fill="#f0c830"/><circle cx="107.6" cy="999.9" r="1.0" fill="#f6e468"/><circle cx="105.0" cy="991.2" r="0.9" fill="#f0c830"/><circle cx="143.3" cy="997.8" r="1.4" fill="#e0d040"/><circle cx="122.4" cy="986.1" r="1.6" fill="#88aa3c"/><circle cx="193.3" cy="962.4" r="1.1" fill="#e0d040"/><circle cx="95.7" cy="1004.5" r="1.1" fill="#f2d420"/><circle cx="89.5" cy="996.9" r="1.4" fill="#e0d040"/><circle cx="192.3" cy="965.8" r="1.4" fill="#e0d040"/><circle cx="138.3" cy="987.6" r="1.2" fill="#f2d420"/><circle cx="179.5" cy="975.1" r="0.7" fill="#f0c830"/><circle cx="154.7" cy="990.1" r="1.4" fill="#f2d420"/><circle cx="117.9" cy="984.8" r="1.0" fill="#f6e468"/><circle cx="141.4" cy="989.5" r="1.3" fill="#f6e468"/><circle cx="202.8" cy="995.1" r="1.5" fill="#6a9a34"/><circle cx="148.6" cy="975.8" r="0.8" fill="#f6e468"/><circle cx="123.8" cy="994.3" r="1.3" fill="#f0c830"/><circle cx="103.9" cy="991.7" r="0.7" fill="#88aa3c"/><circle cx="122.9" cy="994.0" r="1.4" fill="#6a9a34"/><circle cx="130.2" cy="1007.6" r="0.7" fill="#6a9a34"/><circle cx="107.4" cy="988.0" r="0.8" fill="#e0d040"/><circle cx="191.9" cy="988.0" r="1.5" fill="#6a9a34"/><circle cx="154.7" cy="987.7" r="1.1" fill="#f2d420"/><circle cx="191.8" cy="967.1" r="1.6" fill="#f0c830"/><circle cx="131.5" cy="1007.6" r="1.3" fill="#f6e468"/><circle cx="100.2" cy="999.6" r="1.5" fill="#6a9a34"/><circle cx="155.7" cy="981.1" r="0.8" fill="#6a9a34"/><circle cx="190.9" cy="988.1" r="1.6" fill="#e8c818"/><circle cx="190.6" cy="966.6" r="1.0" fill="#e0d040"/><circle cx="179.1" cy="966.9" r="1.6" fill="#f2d420"/><circle cx="158.2" cy="996.4" r="0.9" fill="#f2d420"/><circle cx="150.2" cy="991.1" r="1.3" fill="#f0c830"/><circle cx="170.3" cy="978.8" r="1.1" fill="#f0c830"/><circle cx="153.5" cy="977.6" r="1.1" fill="#f2d420"/><circle cx="154.7" cy="1007.1" r="0.9" fill="#f2d420"/><circle cx="96.5" cy="993.7" r="1.2" fill="#f0c830"/><circle cx="100.9" cy="991.2" r="1.2" fill="#6a9a34"/><circle cx="177.8" cy="973.8" r="0.8" fill="#f6e468"/><circle cx="95.1" cy="997.7" r="0.8" fill="#e8c818"/><circle cx="185.9" cy="986.4" r="1.5" fill="#e8c818"/><circle cx="191.4" cy="983.9" r="1.4" fill="#88aa3c"/><circle cx="90.4" cy="994.2" r="0.8" fill="#f2d420"/><circle cx="120.3" cy="989.0" r="1.4" fill="#f0c830"/><circle cx="174.2" cy="993.0" r="1.4" fill="#88aa3c"/><circle cx="100.8" cy="1005.9" r="1.2" fill="#f0c830"/><circle cx="157.2" cy="1007.0" r="0.8" fill="#f2d420"/><circle cx="181.3" cy="968.7" r="1.0" fill="#e8c818"/><circle cx="136.0" cy="995.3" r="1.4" fill="#f2d420"/><circle cx="108.8" cy="1007.0" r="1.1" fill="#f2d420"/><circle cx="92.5" cy="999.7" r="1.0" fill="#6a9a34"/><circle cx="77.9" cy="999.4" r="1.0" fill="#6a9a34"/><circle cx="86.7" cy="1003.7" r="1.3" fill="#e0d040"/><circle cx="79.5" cy="1005.4" r="1.6" fill="#88aa3c"/><circle cx="171.5" cy="1003.8" r="1.0" fill="#e0d040"/><circle cx="193.0" cy="985.2" r="1.4" fill="#f2d420"/><circle cx="150.9" cy="979.6" r="1.0" fill="#88aa3c"/><circle cx="85.6" cy="998.3" r="0.9" fill="#e8c818"/><circle cx="112.1" cy="999.8" r="0.8" fill="#f2d420"/><circle cx="148.1" cy="984.3" r="0.9" fill="#88aa3c"/><circle cx="126.8" cy="1006.2" r="0.8" fill="#e0d040"/><circle cx="93.9" cy="992.3" r="1.4" fill="#e8c818"/><circle cx="123.5" cy="983.0" r="0.9" fill="#f6e468"/><circle cx="199.5" cy="999.1" r="0.8" fill="#e8c818"/><circle cx="102.2" cy="1003.2" r="0.7" fill="#f0c830"/><circle cx="88.4" cy="995.6" r="1.6" fill="#6a9a34"/><circle cx="137.5" cy="978.9" r="0.8" fill="#88aa3c"/><circle cx="176.8" cy="978.0" r="1.2" fill="#6a9a34"/><circle cx="159.8" cy="990.0" r="0.7" fill="#f2d420"/><circle cx="131.3" cy="997.5" r="1.4" fill="#88aa3c"/><circle cx="182.8" cy="1003.2" r="1.0" fill="#88aa3c"/><circle cx="173.9" cy="1002.1" r="0.8" fill="#88aa3c"/><circle cx="101.8" cy="1004.1" r="0.8" fill="#e0d040"/><circle cx="105.1" cy="993.7" r="0.9" fill="#f6e468"/><circle cx="123.8" cy="982.9" r="1.3" fill="#88aa3c"/><circle cx="99.1" cy="995.7" r="0.8" fill="#f6e468"/><circle cx="82.1" cy="998.8" r="0.8" fill="#6a9a34"/><circle cx="79.9" cy="1005.7" r="1.6" fill="#f0c830"/><circle cx="135.9" cy="988.1" r="0.8" fill="#e0d040"/><circle cx="197.0" cy="961.0" r="0.9" fill="#f6e468"/><circle cx="88.4" cy="994.2" r="1.3" fill="#e0d040"/><circle cx="176.3" cy="969.1" r="1.2" fill="#6a9a34"/><circle cx="148.6" cy="979.9" r="0.8" fill="#f6e468"/><circle cx="125.3" cy="987.8" r="1.1" fill="#f0c830"/><circle cx="134.0" cy="1003.2" r="1.6" fill="#e8c818"/><circle cx="111.0" cy="995.2" r="1.4" fill="#e8c818"/><circle cx="107.8" cy="998.8" r="0.8" fill="#f2d420"/><circle cx="175.8" cy="977.6" r="1.2" fill="#f0c830"/><circle cx="107.6" cy="991.0" r="1.4" fill="#e8c818"/><circle cx="82.4" cy="998.4" r="1.0" fill="#f2d420"/><circle cx="148.6" cy="984.4" r="0.8" fill="#f2d420"/><circle cx="195.4" cy="971.0" r="1.2" fill="#6a9a34"/><circle cx="151.8" cy="989.5" r="1.1" fill="#f6e468"/><circle cx="116.0" cy="986.6" r="1.5" fill="#f2d420"/><circle cx="159.7" cy="972.4" r="0.9" fill="#f0c830"/><circle cx="127.1" cy="1005.8" r="1.0" fill="#f0c830"/><circle cx="125.1" cy="988.9" r="1.1" fill="#f2d420"/><circle cx="140.5" cy="990.4" r="0.9" fill="#f6e468"/><circle cx="82.9" cy="1003.8" r="0.8" fill="#e8c818"/><circle cx="125.2" cy="987.2" r="1.4" fill="#f6e468"/><circle cx="177.4" cy="992.9" r="0.9" fill="#88aa3c"/><circle cx="80.7" cy="997.4" r="0.8" fill="#88aa3c"/><circle cx="108.8" cy="990.0" r="1.5" fill="#f6e468"/><circle cx="194.2" cy="997.2" r="1.2" fill="#f0c830"/><circle cx="84.1" cy="1003.6" r="1.2" fill="#f2d420"/><circle cx="135.6" cy="995.9" r="1.2" fill="#6a9a34"/><circle cx="188.6" cy="963.6" r="1.2" fill="#f2d420"/><circle cx="130.1" cy="991.2" r="1.1" fill="#f0c830"/><circle cx="105.7" cy="1007.3" r="0.8" fill="#f2d420"/><circle cx="169.2" cy="986.4" r="0.7" fill="#6a9a34"/><circle cx="136.2" cy="994.1" r="1.5" fill="#6a9a34"/><circle cx="184.5" cy="1005.9" r="1.3" fill="#e0d040"/><circle cx="92.9" cy="1002.9" r="0.9" fill="#e0d040"/><circle cx="115.6" cy="1004.6" r="1.0" fill="#6a9a34"/><circle cx="192.5" cy="975.9" r="0.8" fill="#e8c818"/><circle cx="197.8" cy="968.2" r="1.3" fill="#f6e468"/><circle cx="88.7" cy="996.5" r="0.8" fill="#f6e468"/><circle cx="133.3" cy="990.2" r="1.1" fill="#e8c818"/><circle cx="95.2" cy="997.2" r="1.3" fill="#f6e468"/><circle cx="196.8" cy="969.6" r="0.7" fill="#f6e468"/><circle cx="111.6" cy="993.8" r="1.2" fill="#e8c818"/><circle cx="148.3" cy="992.8" r="1.1" fill="#88aa3c"/><circle cx="109.5" cy="990.6" r="1.3" fill="#e8c818"/><circle cx="110.5" cy="991.2" r="1.5" fill="#e0d040"/><circle cx="139.6" cy="996.0" r="0.8" fill="#88aa3c"/><circle cx="92.4" cy="1003.3" r="1.0" fill="#f2d420"/><circle cx="188.5" cy="969.5" r="1.4" fill="#e8c818"/><circle cx="83.9" cy="1008.4" r="1.0" fill="#6a9a34"/><circle cx="120.2" cy="1000.3" r="0.8" fill="#88aa3c"/><circle cx="119.5" cy="984.8" r="0.8" fill="#6a9a34"/><circle cx="120.5" cy="1009.0" r="1.1" fill="#f2d420"/><circle cx="115.9" cy="986.8" r="1.5" fill="#88aa3c"/><circle cx="171.5" cy="1006.3" r="1.1" fill="#f6e468"/><circle cx="130.6" cy="983.5" r="0.7" fill="#f0c830"/><circle cx="146.5" cy="992.7" r="1.3" fill="#e0d040"/><circle cx="196.5" cy="1004.9" r="1.1" fill="#f2d420"/><circle cx="99.2" cy="992.4" r="1.3" fill="#f2d420"/><circle cx="88.2" cy="1008.7" r="1.2" fill="#f6e468"/><circle cx="92.1" cy="995.0" r="1.1" fill="#88aa3c"/><circle cx="132.1" cy="982.8" r="1.2" fill="#e8c818"/><circle cx="126.2" cy="995.1" r="1.5" fill="#e0d040"/><circle cx="189.9" cy="989.7" r="0.8" fill="#e0d040"/><circle cx="84.3" cy="1007.6" r="1.1" fill="#f6e468"/><circle cx="148.0" cy="998.9" r="1.3" fill="#e0d040"/><circle cx="113.7" cy="1000.3" r="0.9" fill="#f6e468"/><circle cx="129.0" cy="997.3" r="0.8" fill="#f0c830"/><circle cx="103.3" cy="1000.2" r="1.4" fill="#f2d420"/><circle cx="134.3" cy="982.6" r="0.9" fill="#6a9a34"/><circle cx="88.9" cy="997.7" r="1.3" fill="#88aa3c"/><circle cx="163.8" cy="997.6" r="1.1" fill="#e0d040"/><circle cx="151.5" cy="978.3" r="1.0" fill="#f2d420"/><circle cx="146.7" cy="988.9" r="0.9" fill="#f2d420"/><circle cx="120.4" cy="994.8" r="1.3" fill="#f6e468"/><circle cx="189.1" cy="979.3" r="1.2" fill="#f0c830"/><circle cx="120.1" cy="1004.3" r="0.8" fill="#f6e468"/><circle cx="115.0" cy="990.4" r="1.4" fill="#e0d040"/><circle cx="161.0" cy="995.6" r="1.4" fill="#f2d420"/><circle cx="139.7" cy="979.8" r="1.6" fill="#f6e468"/><circle cx="161.8" cy="980.8" r="1.5" fill="#6a9a34"/><circle cx="136.3" cy="1005.0" r="1.2" fill="#e0d040"/><circle cx="168.2" cy="987.6" r="1.4" fill="#e8c818"/><circle cx="151.1" cy="992.0" r="1.2" fill="#f6e468"/><circle cx="175.9" cy="998.6" r="0.7" fill="#f0c830"/><circle cx="77.8" cy="1008.4" r="1.4" fill="#e8c818"/><circle cx="201.7" cy="997.8" r="0.9" fill="#88aa3c"/><circle cx="128.4" cy="982.2" r="1.1" fill="#88aa3c"/><circle cx="106.7" cy="990.7" r="0.7" fill="#6a9a34"/><circle cx="107.6" cy="988.1" r="1.5" fill="#e0d040"/><circle cx="132.9" cy="984.5" r="1.4" fill="#e0d040"/><circle cx="148.6" cy="988.4" r="1.4" fill="#88aa3c"/><circle cx="165.0" cy="970.9" r="0.9" fill="#88aa3c"/><circle cx="77.8" cy="999.9" r="1.1" fill="#e8c818"/><circle cx="175.2" cy="968.5" r="1.1" fill="#f6e468"/><circle cx="192.1" cy="976.2" r="1.0" fill="#f2d420"/><circle cx="80.7" cy="1005.0" r="1.4" fill="#f0c830"/><circle cx="136.8" cy="992.9" r="1.2" fill="#88aa3c"/><circle cx="186.1" cy="967.6" r="1.3" fill="#f6e468"/><circle cx="203.7" cy="962.6" r="0.8" fill="#e0d040"/><circle cx="103.1" cy="996.4" r="1.5" fill="#e8c818"/><circle cx="105.6" cy="988.4" r="1.1" fill="#e0d040"/><circle cx="101.4" cy="1005.2" r="1.1" fill="#88aa3c"/><circle cx="199.1" cy="1001.0" r="1.3" fill="#e8c818"/><circle cx="94.3" cy="1006.3" r="0.8" fill="#f2d420"/><circle cx="112.4" cy="994.4" r="0.9" fill="#6a9a34"/><circle cx="187.2" cy="988.3" r="1.4" fill="#88aa3c"/><circle cx="107.2" cy="993.3" r="1.4" fill="#88aa3c"/><circle cx="161.6" cy="990.7" r="1.5" fill="#6a9a34"/><circle cx="171.2" cy="993.2" r="0.9" fill="#f0c830"/><circle cx="109.4" cy="999.1" r="1.4" fill="#e8c818"/><circle cx="182.2" cy="1006.9" r="0.8" fill="#6a9a34"/><circle cx="89.6" cy="1000.3" r="1.0" fill="#e8c818"/><circle cx="157.5" cy="975.1" r="1.2" fill="#6a9a34"/><circle cx="131.7" cy="981.3" r="0.7" fill="#f0c830"/><circle cx="137.0" cy="1001.2" r="1.5" fill="#6a9a34"/><circle cx="195.4" cy="962.1" r="0.8" fill="#f2d420"/><circle cx="203.5" cy="988.7" r="1.0" fill="#f6e468"/><circle cx="111.2" cy="995.8" r="1.5" fill="#e0d040"/><circle cx="155.0" cy="986.6" r="0.9" fill="#f6e468"/><circle cx="148.7" cy="1007.8" r="0.7" fill="#f6e468"/><circle cx="115.1" cy="1002.5" r="0.8" fill="#f0c830"/><circle cx="139.2" cy="978.8" r="1.3" fill="#e0d040"/><circle cx="89.5" cy="1002.8" r="1.1" fill="#e0d040"/><circle cx="122.2" cy="1000.2" r="0.7" fill="#6a9a34"/><circle cx="163.9" cy="972.1" r="1.2" fill="#f2d420"/><circle cx="175.0" cy="1000.8" r="1.3" fill="#f2d420"/><circle cx="82.7" cy="1000.1" r="1.1" fill="#f6e468"/><circle cx="116.2" cy="991.2" r="1.3" fill="#f0c830"/><circle cx="86.6" cy="1002.1" r="0.9" fill="#e0d040"/><circle cx="183.5" cy="983.8" r="0.8" fill="#f6e468"/><circle cx="114.7" cy="986.2" r="1.0" fill="#f6e468"/><circle cx="88.7" cy="996.3" r="0.9" fill="#6a9a34"/><circle cx="90.8" cy="995.6" r="1.4" fill="#f6e468"/><circle cx="119.3" cy="997.8" r="1.1" fill="#88aa3c"/><circle cx="196.2" cy="981.9" r="1.5" fill="#e0d040"/><circle cx="111.2" cy="1003.0" r="1.2" fill="#e0d040"/><circle cx="142.9" cy="977.9" r="1.2" fill="#f6e468"/><circle cx="130.2" cy="983.1" r="1.4" fill="#f6e468"/><circle cx="93.3" cy="992.4" r="1.0" fill="#f2d420"/><circle cx="116.5" cy="989.9" r="1.2" fill="#f0c830"/><circle cx="91.3" cy="992.8" r="0.8" fill="#e0d040"/><circle cx="82.8" cy="995.7" r="1.4" fill="#f2d420"/><circle cx="86.1" cy="994.6" r="1.3" fill="#e0d040"/><circle cx="132.6" cy="983.0" r="1.1" fill="#e0d040"/><circle cx="98.1" cy="993.8" r="1.3" fill="#f0c830"/><circle cx="149.4" cy="982.8" r="1.1" fill="#f6e468"/><circle cx="185.6" cy="967.1" r="1.1" fill="#e0d040"/><circle cx="185.8" cy="965.1" r="1.1" fill="#e0d040"/><circle cx="124.7" cy="1000.5" r="1.5" fill="#f2d420"/><circle cx="127.3" cy="1003.1" r="1.6" fill="#e8c818"/><circle cx="95.9" cy="1003.7" r="1.2" fill="#e0d040"/><circle cx="112.9" cy="987.6" r="1.1" fill="#6a9a34"/><circle cx="128.8" cy="984.5" r="1.3" fill="#f6e468"/><circle cx="193.7" cy="978.2" r="0.8" fill="#f6e468"/><circle cx="82.0" cy="1005.3" r="1.3" fill="#e8c818"/><circle cx="165.6" cy="1001.6" r="1.3" fill="#f2d420"/><circle cx="192.4" cy="993.6" r="1.0" fill="#e0d040"/><circle cx="120.4" cy="988.6" r="1.5" fill="#f2d420"/><circle cx="83.3" cy="999.7" r="0.9" fill="#f0c830"/><circle cx="103.6" cy="1006.5" r="1.6" fill="#e0d040"/><circle cx="178.0" cy="970.3" r="1.1" fill="#f2d420"/><circle cx="166.6" cy="995.1" r="0.8" fill="#6a9a34"/><circle cx="117.3" cy="987.5" r="0.8" fill="#f2d420"/><circle cx="176.0" cy="1002.2" r="1.2" fill="#88aa3c"/><circle cx="122.3" cy="987.9" r="1.1" fill="#88aa3c"/><circle cx="111.9" cy="986.8" r="0.9" fill="#6a9a34"/><circle cx="200.3" cy="996.9" r="1.4" fill="#f6e468"/><circle cx="185.8" cy="998.8" r="1.4" fill="#6a9a34"/><circle cx="173.9" cy="1005.3" r="0.9" fill="#6a9a34"/><circle cx="150.6" cy="979.3" r="0.7" fill="#e0d040"/><circle cx="78.0" cy="997.4" r="1.4" fill="#e8c818"/><circle cx="118.3" cy="987.1" r="1.3" fill="#f2d420"/><circle cx="184.2" cy="992.3" r="1.2" fill="#e0d040"/><circle cx="144.0" cy="982.9" r="0.9" fill="#e8c818"/><circle cx="186.5" cy="994.9" r="1.0" fill="#e8c818"/><circle cx="164.9" cy="987.1" r="0.9" fill="#f2d420"/><circle cx="149.4" cy="975.9" r="0.9" fill="#f6e468"/><circle cx="162.2" cy="987.3" r="1.0" fill="#6a9a34"/><circle cx="95.2" cy="1002.8" r="0.9" fill="#f0c830"/><circle cx="153.0" cy="994.0" r="1.4" fill="#f6e468"/><circle cx="105.8" cy="993.9" r="1.0" fill="#e0d040"/><circle cx="87.6" cy="994.9" r="1.1" fill="#f0c830"/><circle cx="160.4" cy="991.7" r="1.3" fill="#f0c830"/><circle cx="138.1" cy="989.3" r="1.5" fill="#e0d040"/><circle cx="79.3" cy="997.1" r="0.8" fill="#88aa3c"/><circle cx="117.3" cy="988.0" r="1.1" fill="#f0c830"/><circle cx="154.7" cy="979.8" r="0.9" fill="#f0c830"/><circle cx="148.9" cy="977.8" r="0.8" fill="#88aa3c"/><circle cx="80.2" cy="1000.4" r="1.0" fill="#f2d420"/><circle cx="102.8" cy="1000.9" r="0.9" fill="#88aa3c"/><circle cx="193.5" cy="962.7" r="1.0" fill="#6a9a34"/><circle cx="91.9" cy="994.3" r="1.2" fill="#e0d040"/><circle cx="180.3" cy="975.0" r="1.4" fill="#f2d420"/><circle cx="138.7" cy="988.0" r="0.8" fill="#6a9a34"/><circle cx="191.2" cy="1008.0" r="1.5" fill="#f2d420"/><circle cx="175.7" cy="1006.1" r="1.3" fill="#f2d420"/><circle cx="103.2" cy="1002.3" r="0.9" fill="#f0c830"/><circle cx="164.7" cy="978.3" r="1.3" fill="#f0c830"/><circle cx="163.8" cy="972.9" r="1.0" fill="#88aa3c"/><circle cx="167.9" cy="992.1" r="0.9" fill="#f0c830"/><circle cx="177.6" cy="988.4" r="1.0" fill="#e8c818"/><circle cx="130.7" cy="989.5" r="1.5" fill="#e8c818"/><circle cx="175.1" cy="979.8" r="1.5" fill="#f6e468"/><circle cx="158.0" cy="976.3" r="0.9" fill="#6a9a34"/><circle cx="168.5" cy="1006.3" r="0.8" fill="#88aa3c"/><circle cx="134.4" cy="988.4" r="1.3" fill="#f2d420"/><circle cx="187.1" cy="965.9" r="1.1" fill="#f0c830"/><circle cx="164.1" cy="972.4" r="0.8" fill="#f2d420"/><circle cx="183.1" cy="965.5" r="1.1" fill="#e8c818"/><circle cx="198.1" cy="991.5" r="1.0" fill="#88aa3c"/><circle cx="133.1" cy="1008.5" r="1.2" fill="#88aa3c"/><circle cx="187.8" cy="990.1" r="1.6" fill="#f6e468"/><circle cx="142.8" cy="1001.6" r="1.5" fill="#e0d040"/><circle cx="83.8" cy="1008.1" r="1.0" fill="#f6e468"/><circle cx="203.6" cy="962.7" r="1.2" fill="#e0d040"/><circle cx="112.9" cy="989.5" r="1.4" fill="#e8c818"/><circle cx="134.0" cy="980.2" r="1.1" fill="#f6e468"/><circle cx="107.3" cy="993.1" r="0.9" fill="#f6e468"/><circle cx="77.5" cy="997.3" r="0.8" fill="#e0d040"/><circle cx="114.1" cy="988.1" r="1.5" fill="#88aa3c"/><circle cx="109.4" cy="990.4" r="1.3" fill="#f6e468"/><circle cx="109.8" cy="995.1" r="1.3" fill="#f2d420"/><circle cx="95.9" cy="1003.3" r="0.8" fill="#f6e468"/><circle cx="115.8" cy="986.4" r="1.5" fill="#e8c818"/><circle cx="117.9" cy="1006.9" r="0.7" fill="#6a9a34"/><circle cx="131.6" cy="980.6" r="0.9" fill="#f0c830"/><circle cx="168.8" cy="993.7" r="1.4" fill="#f2d420"/><circle cx="117.5" cy="994.4" r="0.8" fill="#6a9a34"/><circle cx="193.3" cy="964.2" r="1.6" fill="#f0c830"/><circle cx="187.9" cy="969.4" r="1.1" fill="#f0c830"/><circle cx="78.4" cy="1000.5" r="1.4" fill="#f6e468"/><circle cx="90.1" cy="998.7" r="0.8" fill="#f6e468"/><circle cx="91.5" cy="999.6" r="1.3" fill="#f0c830"/><circle cx="156.7" cy="985.8" r="1.3" fill="#6a9a34"/><circle cx="137.9" cy="989.4" r="0.9" fill="#6a9a34"/><circle cx="81.3" cy="996.3" r="1.1" fill="#f2d420"/><circle cx="199.9" cy="974.5" r="1.2" fill="#e0d040"/><circle cx="193.0" cy="967.4" r="0.9" fill="#f6e468"/><circle cx="139.1" cy="978.7" r="0.8" fill="#f0c830"/><circle cx="147.4" cy="1008.3" r="1.1" fill="#6a9a34"/><circle cx="190.8" cy="1004.4" r="1.3" fill="#f2d420"/><circle cx="107.2" cy="995.3" r="1.5" fill="#e8c818"/><circle cx="104.1" cy="990.9" r="0.8" fill="#f0c830"/><circle cx="132.2" cy="983.0" r="1.6" fill="#6a9a34"/><circle cx="140.2" cy="999.0" r="0.8" fill="#e8c818"/><circle cx="187.9" cy="977.7" r="1.5" fill="#e0d040"/><circle cx="86.7" cy="998.5" r="1.3" fill="#e0d040"/><circle cx="184.2" cy="1004.4" r="1.4" fill="#f2d420"/><circle cx="143.2" cy="993.4" r="1.0" fill="#e0d040"/><circle cx="164.3" cy="970.9" r="1.0" fill="#e0d040"/><circle cx="177.7" cy="999.3" r="1.0" fill="#f6e468"/><circle cx="125.0" cy="985.8" r="1.1" fill="#e8c818"/><circle cx="153.6" cy="996.1" r="1.5" fill="#f2d420"/><circle cx="121.1" cy="983.9" r="1.4" fill="#6a9a34"/><circle cx="132.0" cy="990.6" r="1.5" fill="#6a9a34"/><circle cx="169.6" cy="979.3" r="0.9" fill="#e8c818"/><circle cx="127.9" cy="992.6" r="1.0" fill="#e0d040"/><circle cx="198.6" cy="969.3" r="1.1" fill="#e0d040"/><circle cx="184.5" cy="971.4" r="1.0" fill="#e8c818"/><circle cx="190.2" cy="1003.8" r="0.7" fill="#f6e468"/><circle cx="119.3" cy="984.8" r="1.1" fill="#e0d040"/><circle cx="88.9" cy="994.2" r="1.0" fill="#6a9a34"/><circle cx="139.7" cy="994.8" r="1.1" fill="#f6e468"/><circle cx="133.4" cy="1000.0" r="1.5" fill="#f0c830"/><circle cx="192.5" cy="962.3" r="1.4" fill="#f0c830"/><circle cx="102.2" cy="994.3" r="0.8" fill="#f2d420"/>
<path d="M77.3 993L88 990L77.3 989Z" fill="#3a5a98"/>
<rect x="77.3" y="1009.7" width="127.9" height="1.2" fill="#2a2a2c"/>
<rect x="136" y="1013" width="11.5" height="5.5" fill="#1e1e20"/>
<path d="M110 1017.5H173L176.5 1022Q176 1024.2 172 1024.2H110Q106 1024.2 106 1022Z" fill="#1a1a1c"/>
</g>
<use href="#tv" transform="translate(0,422.3)"/>
<linearGradient id="stbtop" x1="0" y1="0" x2="0" y2="1"><stop offset="0" stop-color="#5a5f5f"/><stop offset="1" stop-color="#3e4242"/></linearGradient>
<g id="stb">
<path d="M330 949.2H441Q448 948.5 452 954L473.5 986Q475 989.4 470 989.4H301Q296 989.4 298 986L318 954Q322 949.2 330 949.2Z" fill="url(#stbtop)"/>
<path d="M298 989.4H474V1010Q474 1017 466 1017H306Q298 1017 298 1010Z" fill="#1d1f21"/>
<path d="M299 996.5Q310 995 330 997H440Q465 995 473 996.5" stroke="#c9cccc" stroke-width="1.4" fill="none" opacity=".85"/>
<g fill="#9a9c9c"><rect x="405.2" y="1003" width="1.4" height="11"/><rect x="417.6" y="1003" width="1.4" height="11"/><rect x="430" y="1003" width="1.4" height="11"/><rect x="442.6" y="1003" width="1.4" height="11"/></g>
</g>
<use href="#stb" transform="translate(5,414.3) scale(1.0085,1.02) translate(-2.5,-19.5)"/>
<linearGradient id="scr" x1="0" y1="0" x2="1" y2="0"><stop offset="0" stop-color="#1f5c98"/><stop offset=".6" stop-color="#5fa8d0"/><stop offset=".85" stop-color="#c8eaf4"/><stop offset="1" stop-color="#4f90c0"/></linearGradient>
<linearGradient id="twr" x1="0" y1="0" x2="0" y2="1"><stop offset="0" stop-color="#4e5052"/><stop offset=".7" stop-color="#6a6c6e"/><stop offset="1" stop-color="#3a3a3c"/></linearGradient>
<g id="pc">
<path d="M168.7 1094.2L255.5 1085L253.4 1152.8L164.5 1152.1Z" fill="#121214"/>
<path d="M170.8 1096.4L251.3 1089.3L250.6 1149.3L166.6 1149.3Z" fill="url(#scr)"/>
<path d="M226 1089.8Q236 1120 222 1149.3H232Q246 1120 236 1089Z" fill="#e8f8fc" opacity=".45"/>
<circle cx="240" cy="1104" r="7" fill="#e6f6fa" opacity=".5"/><circle cx="243" cy="1140" r="6" fill="#e6f6fa" opacity=".4"/>
<text x="187" y="1126" style="font-family:'Liberation Sans',sans-serif;font-size:14px;font-style:italic;font-weight:bold;fill:#f4f8fb" textLength="37" lengthAdjust="spacingAndGlyphs">ASUS</text>
<path d="M164.5 1150.5H253.4V1153.5H164.5Z" fill="#a0a0a2"/>
<path d="M205 1153H211L214 1162H203Z" fill="#2a2a2c"/>
<path d="M238 1152H258V1163H238Z" fill="#3a3a3c"/>
<path d="M255.5 1085L265.4 1082.5L301.4 1085.5V1168.3H255.5Z" fill="url(#twr)"/>
<path d="M255.5 1085L265.4 1082.5V1168.3H255.5Z" fill="#404244"/>
<rect x="269" y="1089" width="30" height="4.5" fill="#8a8c8e"/><rect x="269" y="1095" width="30" height="2" fill="#555"/>
<rect x="268" y="1103" width="6" height="2" fill="#bbb"/>
<path d="M265.4 1144H301.4V1168.3H265.4Z" fill="#b8babc"/>
<path d="M280 1168.3L301.4 1150V1168.3Z" fill="#0a0a0a"/>
<path d="M265.4 1141H301.4V1144H265.4Z" fill="#2a2a2c"/>
<path d="M155.3 1161.5L250 1163L258.5 1172.6L160 1168.5Z" fill="#5e6062"/>
<path d="M158 1164L252 1166M159 1166.5L255 1169.3" stroke="#8a8c8e" stroke-width=".7"/>
<ellipse cx="139" cy="1164.5" rx="12.7" ry="4" fill="#5e6062"/>
<path d="M130 1163Q138 1160 148 1162" stroke="#b0b0b0" stroke-width=".8" fill="none"/>
</g>
<use href="#pc" transform="translate(-1.5,414.2)"/>
<g id="dish">
<ellipse cx="0" cy="0" rx="20" ry="39.5" fill="#e9e9e9" stroke="#b0b0b0" stroke-width="1.3" transform="translate(31.7,527) rotate(28)"/>
<ellipse cx="0" cy="0" rx="13" ry="30" fill="#f4f4f4" transform="translate(29,531) rotate(28)" opacity=".85"/>
<path d="M21.7 497.9L49.8 533.7" stroke="#a8a8a8" stroke-width="1.3"/>
<path d="M21 495L24 502" stroke="#b8b8b8" stroke-width="2.5"/>
<path d="M30 556V566M34 555V565M38 556L41 565M36 555Q44 553 48 560Q51 564 57 561" stroke="#a0a0a0" stroke-width="1" fill="none"/>
</g>
<use href="#dish" transform="translate(8.3,111.5)"/>
<g id="recv">
<path d="M606.2 943.2H747.4Q752 943.2 754 948L767 1000V1002H582.5L598 948Q600 943.2 606.2 943.2Z" fill="#f3f2ee"/>
<g fill="#fbfbf9">
<rect x="613" y="963" width="20" height="3" rx="1.5"/><rect x="646" y="963" width="24" height="3" rx="1.5"/><rect x="683" y="963" width="22" height="3" rx="1.5"/><rect x="720" y="963" width="22" height="3" rx="1.5"/>
<rect x="610" y="969.5" width="22" height="3" rx="1.5"/><rect x="645" y="969.5" width="25" height="3" rx="1.5"/><rect x="683" y="969.5" width="24" height="3" rx="1.5"/><rect x="722" y="969.5" width="23" height="3" rx="1.5"/>
<rect x="607" y="976.5" width="24" height="3" rx="1.5"/><rect x="643" y="976.5" width="26" height="3" rx="1.5"/><rect x="684" y="976.5" width="26" height="3" rx="1.5"/><rect x="724" y="976.5" width="24" height="3" rx="1.5"/>
<rect x="604" y="984" width="25" height="3" rx="1.5"/><rect x="642" y="984" width="28" height="3" rx="1.5"/><rect x="684" y="984" width="28" height="3" rx="1.5"/><rect x="726" y="984" width="26" height="3" rx="1.5"/>
</g>
<g fill="#e4e2dc">
<rect x="613" y="966" width="20" height="1.5"/><rect x="646" y="966" width="24" height="1.5"/><rect x="683" y="966" width="22" height="1.5"/><rect x="720" y="966" width="22" height="1.5"/>
<rect x="610" y="972.5" width="22" height="1.5"/><rect x="645" y="972.5" width="25" height="1.5"/><rect x="683" y="972.5" width="24" height="1.5"/><rect x="722" y="972.5" width="23" height="1.5"/>
<rect x="607" y="979.5" width="24" height="1.5"/><rect x="643" y="979.5" width="26" height="1.5"/><rect x="684" y="979.5" width="26" height="1.5"/><rect x="724" y="979.5" width="24" height="1.5"/>
</g>
<text x="0" y="0" transform="translate(702.5,948.8) rotate(180)" style="font-family:'Liberation Sans',sans-serif;font-size:10.5px;font-weight:bold;fill:#3a7ea8" textLength="67.5" lengthAdjust="spacingAndGlyphs">PHOTON</text>
<rect x="704" y="949" width="16" height="7.5" rx="1" fill="#3a7ea8"/>
<path d="M582.5 1002H767L768 1036Q768 1042 760 1042.5H590Q583 1042 583 1036Z" fill="#eceae5"/>
<rect x="590" y="1005" width="172" height="33" fill="#f1f0ec" stroke="#dedcd6" stroke-width="1"/>
<rect x="607" y="1009.3" width="22.2" height="27.5" rx="1" fill="#1c1e1e"/><rect x="607" y="1009.3" width="22.2" height="4.5" fill="#3fb068"/>
<rect x="631.5" y="1009.3" width="20.8" height="27.5" rx="1" fill="#1c1e22"/><rect x="631.5" y="1009.3" width="20.8" height="4.5" fill="#3a88c8"/>
<rect x="655.2" y="1014.5" width="20" height="18.5" fill="#26282a"/><rect x="663" y="1020" width="4" height="8" fill="#ddd"/>
<circle cx="693.9" cy="1022.7" r="9" fill="none" stroke="#bdbbb5" stroke-width="1.6"/>
<rect x="721" y="1014" width="22.5" height="28" rx="8" fill="#b2a886"/>
<ellipse cx="732.3" cy="1033" rx="8" ry="7" fill="#c9c0a2"/><circle cx="732.3" cy="1033" r="2.5" fill="#8a8068"/>
</g>
<g id="onu">
<path d="M438.9 1104.5L534 1089L620.2 1099.3L621.7 1102.3L504.3 1124.6Z" fill="#f4edf0"/>
<path d="M438.9 1104.5L504.3 1124.6L512 1173L439 1142Z" fill="#ede3e8"/>
<path d="M504.3 1124.6L621.7 1102.3L622 1154L513 1175Z" fill="#f4ebef"/>
<path d="M504.3 1124.6L621.7 1102.3" stroke="#fbf7f9" stroke-width="2"/>
<g fill="#9c8c98"><rect x="446.0" y="1118.0" width="4.5" height="1.8" rx=".8" transform="rotate(18 446.0 1118.0)"/><rect x="454.2" y="1120.6" width="4.5" height="1.8" rx=".8" transform="rotate(18 454.2 1120.6)"/><rect x="462.4" y="1123.2" width="4.5" height="1.8" rx=".8" transform="rotate(18 462.4 1123.2)"/><rect x="470.6" y="1125.8" width="4.5" height="1.8" rx=".8" transform="rotate(18 470.6 1125.8)"/><rect x="478.8" y="1128.4" width="4.5" height="1.8" rx=".8" transform="rotate(18 478.8 1128.4)"/><rect x="487.0" y="1131.0" width="4.5" height="1.8" rx=".8" transform="rotate(18 487.0 1131.0)"/><rect x="495.2" y="1133.6" width="4.5" height="1.8" rx=".8" transform="rotate(18 495.2 1133.6)"/><rect x="446.0" y="1123.5" width="4.5" height="1.8" rx=".8" transform="rotate(18 446.0 1123.5)"/><rect x="454.2" y="1126.1" width="4.5" height="1.8" rx=".8" transform="rotate(18 454.2 1126.1)"/><rect x="462.4" y="1128.7" width="4.5" height="1.8" rx=".8" transform="rotate(18 462.4 1128.7)"/><rect x="470.6" y="1131.3" width="4.5" height="1.8" rx=".8" transform="rotate(18 470.6 1131.3)"/><rect x="478.8" y="1133.9" width="4.5" height="1.8" rx=".8" transform="rotate(18 478.8 1133.9)"/><rect x="487.0" y="1136.5" width="4.5" height="1.8" rx=".8" transform="rotate(18 487.0 1136.5)"/><rect x="495.2" y="1139.1" width="4.5" height="1.8" rx=".8" transform="rotate(18 495.2 1139.1)"/><rect x="446.0" y="1129.0" width="4.5" height="1.8" rx=".8" transform="rotate(18 446.0 1129.0)"/><rect x="454.2" y="1131.6" width="4.5" height="1.8" rx=".8" transform="rotate(18 454.2 1131.6)"/><rect x="462.4" y="1134.2" width="4.5" height="1.8" rx=".8" transform="rotate(18 462.4 1134.2)"/><rect x="470.6" y="1136.8" width="4.5" height="1.8" rx=".8" transform="rotate(18 470.6 1136.8)"/><rect x="478.8" y="1139.4" width="4.5" height="1.8" rx=".8" transform="rotate(18 478.8 1139.4)"/><rect x="487.0" y="1142.0" width="4.5" height="1.8" rx=".8" transform="rotate(18 487.0 1142.0)"/><rect x="495.2" y="1144.6" width="4.5" height="1.8" rx=".8" transform="rotate(18 495.2 1144.6)"/></g>
<rect x="534.8" y="1133.5" width="21.5" height="25.3" fill="#1a68b8"/><rect x="538" y="1140" width="8" height="12" fill="#0f4e90"/>
<rect x="570.4" y="1118" width="20.1" height="29" fill="#f2b81e"/><rect x="573" y="1124" width="15" height="15" fill="#e0a010"/>
<rect x="603" y="1114" width="9.8" height="21" fill="#141414"/>
</g>
<g id="catv">
<path d="M565.3 1425.5L661 1417L758.4 1427.2L768.6 1439.2L632 1456.3L565.3 1435.8Z" fill="#ecebe3"/>
<path d="M565.3 1435.8L632 1456.3L632 1493L565.3 1463Z" fill="#e2e0d8"/>
<path d="M632 1456.3L768.6 1439.2L768.6 1477L652 1509.4L632 1500Z" fill="#e9e7df"/>
<path d="M666 1462L767 1444V1474L666 1498Z" fill="#f3f2ec"/>
<g fill="#f6f5f0"><circle cx="640" cy="1432" r="1.6"/><circle cx="650" cy="1431" r="1.6"/><circle cx="660" cy="1430" r="1.6"/><circle cx="670" cy="1429" r="1.6"/><circle cx="680" cy="1428" r="1.6"/><circle cx="645" cy="1438" r="1.6"/><circle cx="655" cy="1437" r="1.6"/><circle cx="665" cy="1436" r="1.6"/><circle cx="675" cy="1435" r="1.6"/><circle cx="685" cy="1434" r="1.6"/><circle cx="695" cy="1433" r="1.6"/><circle cx="705" cy="1432" r="1.6"/><circle cx="690" cy="1427" r="1.6"/><circle cx="700" cy="1426" r="1.6"/><circle cx="715" cy="1431" r="1.6"/><circle cx="725" cy="1430" r="1.6"/><circle cx="660" cy="1443" r="1.6"/><circle cx="670" cy="1442" r="1.6"/><circle cx="680" cy="1441" r="1.6"/><circle cx="690" cy="1440" r="1.6"/><circle cx="700" cy="1439" r="1.6"/><circle cx="710" cy="1438" r="1.6"/><circle cx="735" cy="1435" r="1.6"/><circle cx="720" cy="1437" r="1.6"/></g>
<g fill="#3a3a38">
<circle cx="578" cy="1443" r="1.1"/><circle cx="584" cy="1445" r="1.1"/><circle cx="590" cy="1447" r="1.1"/><circle cx="596" cy="1449" r="1.1"/><circle cx="602" cy="1451" r="1.1"/><circle cx="608" cy="1453" r="1.1"/><circle cx="614" cy="1455" r="1.1"/><circle cx="620" cy="1457" r="1.1"/>
<circle cx="578" cy="1448" r="1.1"/><circle cx="584" cy="1450" r="1.1"/><circle cx="590" cy="1452" r="1.1"/><circle cx="596" cy="1454" r="1.1"/><circle cx="602" cy="1456" r="1.1"/><circle cx="608" cy="1458" r="1.1"/><circle cx="614" cy="1460" r="1.1"/><circle cx="620" cy="1462" r="1.1"/>
<circle cx="578" cy="1453" r="1.1"/><circle cx="584" cy="1455" r="1.1"/><circle cx="590" cy="1457" r="1.1"/><circle cx="596" cy="1459" r="1.1"/><circle cx="602" cy="1461" r="1.1"/><circle cx="608" cy="1463" r="1.1"/><circle cx="614" cy="1465" r="1.1"/><circle cx="620" cy="1467" r="1.1"/>
</g>
<rect x="668.6" y="1466.5" width="22.3" height="25.6" fill="#2a9a48"/><rect x="672" y="1471" width="12" height="12" fill="#1a2a1e"/>
<rect x="697.7" y="1457" width="22.2" height="28.3" fill="#f2c11e"/><rect x="701" y="1462" width="14" height="14" fill="#e0a618"/>
<rect x="724.2" y="1456.3" width="11.1" height="23" fill="#161616"/>
<rect x="753.2" y="1451" width="17" height="20" rx="7" fill="#b8b6ac"/><ellipse cx="770" cy="1461" rx="4.5" ry="8.5" fill="#3848a8"/>
</g>
<g id="split2">
<path d="M1105.3 1055.4L1237.7 1053.7L1253.1 1120.3L1270.2 1125.4L1254.8 1142.5L1090 1146L1077 1156.2L1070.3 1149.4L1075.4 1128.9L1094.2 1123.7Z" fill="#3ec8b8"/>
<path d="M1110 1059L1234 1057.5L1249 1120L1100 1123Z" fill="#30ad9e"/>
<clipPath id="spclip"><path d="M1110 1059L1234 1057.5L1249 1120L1100 1123Z"/></clipPath>
<g clip-path="url(#spclip)">
<path d="M1106 1080Q1110 1060 1150 1060Q1190 1058 1230 1062Q1240 1080 1236 1105Q1180 1112 1120 1110Q1104 1100 1106 1080Z" fill="#b6d23a"/>
<ellipse cx="1188.0" cy="1077.6" rx="24.8" ry="9.7" fill="none" stroke="#cfe048" stroke-width=".9"/><ellipse cx="1189.6" cy="1076.0" rx="22.6" ry="9.3" fill="none" stroke="#a8c830" stroke-width=".9"/><ellipse cx="1191.7" cy="1079.1" rx="23.3" ry="9.5" fill="none" stroke="#cfe048" stroke-width=".9"/><ellipse cx="1212.9" cy="1085.7" rx="23.7" ry="9.6" fill="none" stroke="#a8c830" stroke-width=".9"/><ellipse cx="1177.0" cy="1078.8" rx="23.3" ry="10.2" fill="none" stroke="#a8c830" stroke-width=".9"/><ellipse cx="1180.8" cy="1077.0" rx="19.6" ry="16.3" fill="none" stroke="#b8d438" stroke-width=".9"/><ellipse cx="1179.1" cy="1084.7" rx="17.8" ry="9.9" fill="none" stroke="#cfe048" stroke-width=".9"/><ellipse cx="1197.6" cy="1085.5" rx="22.4" ry="13.8" fill="none" stroke="#e0ec70" stroke-width=".9"/><ellipse cx="1193.6" cy="1090.7" rx="20.4" ry="11.2" fill="none" stroke="#b8d438" stroke-width=".9"/><ellipse cx="1203.0" cy="1079.1" rx="23.6" ry="13.7" fill="none" stroke="#e0ec70" stroke-width=".9"/><ellipse cx="1204.2" cy="1079.9" rx="29.7" ry="10.1" fill="none" stroke="#a8c830" stroke-width=".9"/><ellipse cx="1181.6" cy="1080.8" rx="29.0" ry="12.8" fill="none" stroke="#cfe048" stroke-width=".9"/><ellipse cx="1205.6" cy="1084.7" rx="28.1" ry="11.8" fill="none" stroke="#e0ec70" stroke-width=".9"/><ellipse cx="1198.8" cy="1084.9" rx="21.8" ry="16.6" fill="none" stroke="#e0ec70" stroke-width=".9"/><ellipse cx="1194.0" cy="1086.3" rx="15.9" ry="15.3" fill="none" stroke="#a8c830" stroke-width=".9"/><ellipse cx="1186.4" cy="1081.6" rx="25.0" ry="9.2" fill="none" stroke="#a8c830" stroke-width=".9"/><ellipse cx="1189.2" cy="1085.4" rx="22.4" ry="11.0" fill="none" stroke="#e0ec70" stroke-width=".9"/><ellipse cx="1180.2" cy="1079.2" rx="20.9" ry="16.8" fill="none" stroke="#cfe048" stroke-width=".9"/><ellipse cx="1181.7" cy="1081.8" rx="19.2" ry="10.2" fill="none" stroke="#a8c830" stroke-width=".9"/><ellipse cx="1209.6" cy="1079.7" rx="21.2" ry="12.2" fill="none" stroke="#a8c830" stroke-width=".9"/><ellipse cx="1213.3" cy="1077.6" rx="17.6" ry="11.1" fill="none" stroke="#b8d438" stroke-width=".9"/><ellipse cx="1175.5" cy="1089.1" rx="17.7" ry="11.5" fill="none" stroke="#b8d438" stroke-width=".9"/><ellipse cx="1191.8" cy="1081.3" rx="23.5" ry="17.6" fill="none" stroke="#cfe048" stroke-width=".9"/><ellipse cx="1193.3" cy="1089.8" rx="29.3" ry="15.1" fill="none" stroke="#a8c830" stroke-width=".9"/><ellipse cx="1190.9" cy="1081.7" rx="22.2" ry="12.6" fill="none" stroke="#b8d438" stroke-width=".9"/><ellipse cx="1177.7" cy="1078.5" rx="17.4" ry="12.1" fill="none" stroke="#cfe048" stroke-width=".9"/><ellipse cx="1179.1" cy="1084.6" rx="23.0" ry="17.5" fill="none" stroke="#cfe048" stroke-width=".9"/><ellipse cx="1177.8" cy="1078.5" rx="20.6" ry="14.7" fill="none" stroke="#e0ec70" stroke-width=".9"/><ellipse cx="1199.1" cy="1083.1" rx="16.7" ry="13.4" fill="none" stroke="#a8c830" stroke-width=".9"/><ellipse cx="1194.2" cy="1080.3" rx="17.2" ry="15.7" fill="none" stroke="#e0ec70" stroke-width=".9"/><ellipse cx="1194.1" cy="1086.8" rx="22.7" ry="10.8" fill="none" stroke="#e0ec70" stroke-width=".9"/><ellipse cx="1180.9" cy="1084.2" rx="15.4" ry="13.8" fill="none" stroke="#cfe048" stroke-width=".9"/><ellipse cx="1202.8" cy="1079.4" rx="20.5" ry="10.5" fill="none" stroke="#b8d438" stroke-width=".9"/><ellipse cx="1196.3" cy="1088.2" rx="19.9" ry="11.0" fill="none" stroke="#b8d438" stroke-width=".9"/><ellipse cx="1207.2" cy="1088.9" rx="26.1" ry="11.0" fill="none" stroke="#a8c830" stroke-width=".9"/><ellipse cx="1189.2" cy="1075.5" rx="15.4" ry="11.5" fill="none" stroke="#e0ec70" stroke-width=".9"/><ellipse cx="1182.7" cy="1085.3" rx="20.2" ry="16.3" fill="none" stroke="#e0ec70" stroke-width=".9"/><ellipse cx="1213.2" cy="1081.2" rx="18.3" ry="11.0" fill="none" stroke="#b8d438" stroke-width=".9"/><ellipse cx="1188.5" cy="1083.2" rx="29.8" ry="14.5" fill="none" stroke="#cfe048" stroke-width=".9"/><ellipse cx="1194.2" cy="1086.1" rx="27.0" ry="9.8" fill="none" stroke="#cfe048" stroke-width=".9"/><ellipse cx="1211.4" cy="1088.3" rx="26.3" ry="13.3" fill="none" stroke="#b8d438" stroke-width=".9"/><ellipse cx="1192.4" cy="1085.8" rx="16.3" ry="17.5" fill="none" stroke="#a8c830" stroke-width=".9"/><ellipse cx="1193.5" cy="1087.6" rx="16.3" ry="10.4" fill="none" stroke="#b8d438" stroke-width=".9"/><ellipse cx="1176.1" cy="1085.0" rx="22.0" ry="14.9" fill="none" stroke="#a8c830" stroke-width=".9"/><ellipse cx="1201.3" cy="1081.0" rx="23.2" ry="10.2" fill="none" stroke="#cfe048" stroke-width=".9"/><ellipse cx="1207.0" cy="1087.3" rx="16.5" ry="15.7" fill="none" stroke="#b8d438" stroke-width=".9"/><ellipse cx="1192.4" cy="1089.8" rx="27.4" ry="10.9" fill="none" stroke="#e0ec70" stroke-width=".9"/><ellipse cx="1183.5" cy="1083.5" rx="26.5" ry="11.9" fill="none" stroke="#a8c830" stroke-width=".9"/><ellipse cx="1208.4" cy="1076.0" rx="26.1" ry="17.1" fill="none" stroke="#a8c830" stroke-width=".9"/><ellipse cx="1208.1" cy="1089.9" rx="17.0" ry="10.4" fill="none" stroke="#cfe048" stroke-width=".9"/><ellipse cx="1209.9" cy="1088.2" rx="24.1" ry="16.0" fill="none" stroke="#b8d438" stroke-width=".9"/><ellipse cx="1181.9" cy="1083.0" rx="25.9" ry="14.0" fill="none" stroke="#e0ec70" stroke-width=".9"/><ellipse cx="1202.3" cy="1084.0" rx="22.2" ry="16.0" fill="none" stroke="#cfe048" stroke-width=".9"/><ellipse cx="1184.9" cy="1079.7" rx="26.6" ry="13.6" fill="none" stroke="#cfe048" stroke-width=".9"/><ellipse cx="1205.4" cy="1090.5" rx="21.6" ry="14.5" fill="none" stroke="#b8d438" stroke-width=".9"/><ellipse cx="1202.7" cy="1082.7" rx="23.0" ry="13.3" fill="none" stroke="#b8d438" stroke-width=".9"/><ellipse cx="1203.0" cy="1089.9" rx="29.1" ry="11.3" fill="none" stroke="#b8d438" stroke-width=".9"/><ellipse cx="1208.6" cy="1077.3" rx="16.8" ry="13.0" fill="none" stroke="#cfe048" stroke-width=".9"/><ellipse cx="1201.8" cy="1082.3" rx="18.2" ry="11.7" fill="none" stroke="#cfe048" stroke-width=".9"/><ellipse cx="1210.9" cy="1077.6" rx="25.7" ry="14.9" fill="none" stroke="#b8d438" stroke-width=".9"/><ellipse cx="1141.0" cy="1081.1" rx="28.8" ry="20.7" fill="none" stroke="#cfe048" stroke-width=".9"/><ellipse cx="1142.8" cy="1083.9" rx="31.9" ry="21.2" fill="none" stroke="#b8d438" stroke-width=".9"/><ellipse cx="1146.5" cy="1088.0" rx="28.4" ry="19.1" fill="none" stroke="#e0ec70" stroke-width=".9"/><ellipse cx="1141.8" cy="1085.8" rx="26.1" ry="19.8" fill="none" stroke="#a8c830" stroke-width=".9"/><ellipse cx="1146.4" cy="1083.1" rx="29.1" ry="18.5" fill="none" stroke="#cfe048" stroke-width=".9"/><ellipse cx="1139.4" cy="1087.3" rx="27.4" ry="21.4" fill="none" stroke="#cfe048" stroke-width=".9"/><ellipse cx="1141.2" cy="1080.3" rx="30.7" ry="18.4" fill="none" stroke="#b8d438" stroke-width=".9"/><ellipse cx="1147.8" cy="1086.8" rx="30.1" ry="21.7" fill="none" stroke="#a8c830" stroke-width=".9"/><ellipse cx="1139.8" cy="1087.4" rx="29.4" ry="20.5" fill="none" stroke="#cfe048" stroke-width=".9"/><ellipse cx="1141.3" cy="1086.4" rx="27.1" ry="21.5" fill="none" stroke="#e0ec70" stroke-width=".9"/><ellipse cx="1149.3" cy="1085.1" rx="30.8" ry="17.4" fill="none" stroke="#b8d438" stroke-width=".9"/><ellipse cx="1138.8" cy="1086.9" rx="28.7" ry="18.7" fill="none" stroke="#a8c830" stroke-width=".9"/><ellipse cx="1149.1" cy="1082.1" rx="26.8" ry="19.6" fill="none" stroke="#b8d438" stroke-width=".9"/><ellipse cx="1149.3" cy="1087.8" rx="27.6" ry="17.9" fill="none" stroke="#e0ec70" stroke-width=".9"/><ellipse cx="1145.5" cy="1084.2" rx="27.2" ry="19.2" fill="none" stroke="#b8d438" stroke-width=".9"/><ellipse cx="1141.2" cy="1086.4" rx="32.0" ry="17.2" fill="none" stroke="#cfe048" stroke-width=".9"/><ellipse cx="1146.8" cy="1084.4" rx="27.1" ry="19.4" fill="none" stroke="#a8c830" stroke-width=".9"/><ellipse cx="1139.3" cy="1086.6" rx="28.6" ry="19.5" fill="none" stroke="#a8c830" stroke-width=".9"/><ellipse cx="1149.6" cy="1082.5" rx="27.3" ry="18.1" fill="none" stroke="#b8d438" stroke-width=".9"/><ellipse cx="1148.0" cy="1085.7" rx="29.8" ry="19.0" fill="none" stroke="#e0ec70" stroke-width=".9"/><ellipse cx="1149.8" cy="1086.7" rx="26.1" ry="20.1" fill="none" stroke="#e0ec70" stroke-width=".9"/><ellipse cx="1143.2" cy="1080.4" rx="30.0" ry="18.9" fill="none" stroke="#e0ec70" stroke-width=".9"/><ellipse cx="1145.2" cy="1085.5" rx="26.3" ry="17.9" fill="none" stroke="#e0ec70" stroke-width=".9"/><ellipse cx="1143.3" cy="1082.1" rx="31.8" ry="21.9" fill="none" stroke="#e0ec70" stroke-width=".9"/><ellipse cx="1140.9" cy="1087.7" rx="27.9" ry="18.8" fill="none" stroke="#cfe048" stroke-width=".9"/>
</g>
<path d="M1118 1070H1168V1100H1122Q1115 1085 1118 1070Z" fill="#1f3a30"/>
<path d="M1097.00 1140L1109.00 1104L1115.00 1104L1103.50 1140Z" fill="#2f92dc"/><path d="M1097.00 1140L1100.30 1130L1106.60 1130L1103.50 1140Z" fill="#14283a"/><path d="M1100.30 1130L1101.50 1126.5L1107.80 1126.5L1106.60 1130Z" fill="#1e6aa8"/><path d="M1105.15 1140L1117.15 1104L1123.15 1104L1111.65 1140Z" fill="#2f92dc"/><path d="M1105.15 1140L1108.45 1130L1114.75 1130L1111.65 1140Z" fill="#14283a"/><path d="M1108.45 1130L1109.65 1126.5L1115.95 1126.5L1114.75 1130Z" fill="#1e6aa8"/><path d="M1113.30 1140L1125.30 1104L1131.30 1104L1119.80 1140Z" fill="#2f92dc"/><path d="M1113.30 1140L1116.60 1130L1122.90 1130L1119.80 1140Z" fill="#14283a"/><path d="M1116.60 1130L1117.80 1126.5L1124.10 1126.5L1122.90 1130Z" fill="#1e6aa8"/><path d="M1121.45 1140L1133.45 1104L1139.45 1104L1127.95 1140Z" fill="#2f92dc"/><path d="M1121.45 1140L1124.75 1130L1131.05 1130L1127.95 1140Z" fill="#14283a"/><path d="M1124.75 1130L1125.95 1126.5L1132.25 1126.5L1131.05 1130Z" fill="#1e6aa8"/><path d="M1129.60 1140L1141.60 1104L1147.60 1104L1136.10 1140Z" fill="#2f92dc"/><path d="M1129.60 1140L1132.90 1130L1139.20 1130L1136.10 1140Z" fill="#14283a"/><path d="M1132.90 1130L1134.10 1126.5L1140.40 1126.5L1139.20 1130Z" fill="#1e6aa8"/><path d="M1137.75 1140L1149.75 1104L1155.75 1104L1144.25 1140Z" fill="#2f92dc"/><path d="M1137.75 1140L1141.05 1130L1147.35 1130L1144.25 1140Z" fill="#14283a"/><path d="M1141.05 1130L1142.25 1126.5L1148.55 1126.5L1147.35 1130Z" fill="#1e6aa8"/><path d="M1145.90 1140L1157.90 1104L1163.90 1104L1152.40 1140Z" fill="#2f92dc"/><path d="M1145.90 1140L1149.20 1130L1155.50 1130L1152.40 1140Z" fill="#14283a"/><path d="M1149.20 1130L1150.40 1126.5L1156.70 1126.5L1155.50 1130Z" fill="#1e6aa8"/><path d="M1154.05 1140L1166.05 1104L1172.05 1104L1160.55 1140Z" fill="#2f92dc"/><path d="M1154.05 1140L1157.35 1130L1163.65 1130L1160.55 1140Z" fill="#14283a"/><path d="M1157.35 1130L1158.55 1126.5L1164.85 1126.5L1163.65 1130Z" fill="#1e6aa8"/><path d="M1162.20 1140L1174.20 1104L1180.20 1104L1168.70 1140Z" fill="#2f92dc"/><path d="M1162.20 1140L1165.50 1130L1171.80 1130L1168.70 1140Z" fill="#14283a"/><path d="M1165.50 1130L1166.70 1126.5L1173.00 1126.5L1171.80 1130Z" fill="#1e6aa8"/><path d="M1170.35 1140L1182.35 1104L1188.35 1104L1176.85 1140Z" fill="#2f92dc"/><path d="M1170.35 1140L1173.65 1130L1179.95 1130L1176.85 1140Z" fill="#14283a"/><path d="M1173.65 1130L1174.85 1126.5L1181.15 1126.5L1179.95 1130Z" fill="#1e6aa8"/><path d="M1178.50 1140L1190.50 1104L1196.50 1104L1185.00 1140Z" fill="#2f92dc"/><path d="M1178.50 1140L1181.80 1130L1188.10 1130L1185.00 1140Z" fill="#14283a"/><path d="M1181.80 1130L1183.00 1126.5L1189.30 1126.5L1188.10 1130Z" fill="#1e6aa8"/><path d="M1186.65 1140L1198.65 1104L1204.65 1104L1193.15 1140Z" fill="#2f92dc"/><path d="M1186.65 1140L1189.95 1130L1196.25 1130L1193.15 1140Z" fill="#14283a"/><path d="M1189.95 1130L1191.15 1126.5L1197.45 1126.5L1196.25 1130Z" fill="#1e6aa8"/><path d="M1194.80 1140L1206.80 1104L1212.80 1104L1201.30 1140Z" fill="#2f92dc"/><path d="M1194.80 1140L1198.10 1130L1204.40 1130L1201.30 1140Z" fill="#14283a"/><path d="M1198.10 1130L1199.30 1126.5L1205.60 1126.5L1204.40 1130Z" fill="#1e6aa8"/><path d="M1202.95 1140L1214.95 1104L1220.95 1104L1209.45 1140Z" fill="#2f92dc"/><path d="M1202.95 1140L1206.25 1130L1212.55 1130L1209.45 1140Z" fill="#14283a"/><path d="M1206.25 1130L1207.45 1126.5L1213.75 1126.5L1212.55 1130Z" fill="#1e6aa8"/><path d="M1211.10 1140L1223.10 1104L1229.10 1104L1217.60 1140Z" fill="#2f92dc"/><path d="M1211.10 1140L1214.40 1130L1220.70 1130L1217.60 1140Z" fill="#14283a"/><path d="M1214.40 1130L1215.60 1126.5L1221.90 1126.5L1220.70 1130Z" fill="#1e6aa8"/><path d="M1219.25 1140L1231.25 1104L1237.25 1104L1225.75 1140Z" fill="#2f92dc"/><path d="M1219.25 1140L1222.55 1130L1228.85 1130L1225.75 1140Z" fill="#14283a"/><path d="M1222.55 1130L1223.75 1126.5L1230.05 1126.5L1228.85 1130Z" fill="#1e6aa8"/><path d="M1227.40 1140L1239.40 1104L1245.40 1104L1233.90 1140Z" fill="#2f92dc"/><path d="M1227.40 1140L1230.70 1130L1237.00 1130L1233.90 1140Z" fill="#14283a"/><path d="M1230.70 1130L1231.90 1126.5L1238.20 1126.5L1237.00 1130Z" fill="#1e6aa8"/>
</g>
<circle cx="534" cy="285.5" r="2" fill="#1a40e0"/><circle cx="655" cy="341.5" r="2" fill="#1a40e0"/>
<g id="lines">
<!-- red fiber lines -->
<path class="r" d="M412 287H534"/>
<path class="r" d="M715 277H771.5V207H941"/>
<path class="r" d="M715 311H771V410H871a4 4 0 0 1 8 0H890.4a4 4 0 0 1 8 0H944"/>
<path class="r" d="M1003 217V286.6H875V480.7H999V504.6H1111.5V562"/>
<path class="r" d="M1106.7 217V301H894.4V466.3H1008V495.6H1187V566"/>
<path class="r" d="M1026.8 424V457.3H1201.5V566"/>
<path class="r" d="M1160 410H1280.6V566"/>
<path class="r" d="M850 528.3H1100V646H846"/>
<path class="r" d="M1176 621V677M1176 708.7V1053"/>
<path class="r" d="M1103 1071H620.5V1034"/>
<path class="r" d="M638.7 1018V1005H545V1150"/>
<path class="r" d="M1090 1122.7H915V1486.2H690"/>
<path class="r" d="M1043 1491.3H1147.5"/>
<!-- black cable lines -->
<path class="k" d="M57 561.3H157"/>
<path class="k" d="M64 636H141"/>
<path class="k" d="M104 575V626.5" stroke-dasharray="10 4 2 4"/>
<path class="k" d="M376 537.4H471"/>
<path class="k" d="M360 636H466"/>
<path class="k" d="M207.8 971.5H311.7"/>
<path class="k" d="M473.5 990.5H734V1032"/>
<path class="k" d="M302.5 1136.8H474"/>
<path class="k" d="M207.8 1401.5H302"/>
<path class="k" d="M480 1392H771.2V1456"/>
<path class="k" d="M300 1551.4H705V1475"/>
<path class="k" d="M1043 1453.3H1147.5"/>
</g>

<g id="labels">
<text class="lb" x="541" y="202">router/switch</text>
<text class="lb" x="1162.5" y="253.6" style="font-size:31.5px">OLT</text>
<text class="lb" x="1159.5" y="358.5" style="font-size:31px">OLT</text>
<text class="lb" x="900" y="513.6">Path A</text>
<text class="lb" x="537.5" y="583.7">1550nm transmitter</text>
<text class="lb" x="1210" y="660">YEDFA</text>
<text class="lb" x="906" y="672">Path B</text>
<text class="lb" x="890" y="706">(standby)</text>
<text class="lb" x="1081.5" y="756.5">Splitter</text>
<text class="lb" x="124" y="919.2">TV</text>
<text class="lb" x="361" y="938.8">STB</text>
<text class="lb" x="540" y="919.6">Receiver with WDM</text>
<text class="lb" x="1081.5" y="1035.7">Splitter</text>
<text class="lb" x="109.5" y="1137.8" style="font-size:31px">PC</text>
<text class="lb" x="508" y="1212">ONU</text>
<text class="lb" x="124" y="1348.6">TV</text>
<text class="lb" x="333" y="1355.8">STB</text>
<text class="lb" x="582" y="1377">ONU with CATV</text>
<text class="lb" x="1167" y="1462.3">cable</text>
<text class="lb" x="1167" y="1499.7">fiber</text>
<text class="lb" x="108.5" y="1552" style="font-size:31px">PC</text>
</g>
</svg>
</body></html>
